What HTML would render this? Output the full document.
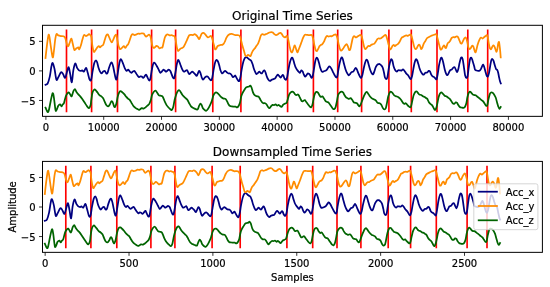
<!DOCTYPE html>
<html><head><meta charset="utf-8"><style>
html,body{margin:0;padding:0;background:#fff;}
body{width:550px;height:287px;overflow:hidden;}
svg{display:block;}
text{stroke:#000;stroke-width:0.2px;}
</style></head><body>
<svg width="550" height="287" viewBox="0 0 550 287" font-family="DejaVu Sans, Liberation Sans, sans-serif" font-size="10" fill="#000">
<rect width="550" height="287" fill="#fff"/>
<clipPath id="c1"><rect x="42.50" y="25.30" width="499.90" height="91.05"/></clipPath>
<g clip-path="url(#c1)">
<line x1="66.50" y1="29.55" x2="66.50" y2="112.25" stroke="#ff0000" stroke-width="1.65"/>
<line x1="91.60" y1="29.55" x2="91.60" y2="112.25" stroke="#ff0000" stroke-width="1.65"/>
<line x1="117.50" y1="29.55" x2="117.50" y2="112.25" stroke="#ff0000" stroke-width="1.65"/>
<line x1="151.60" y1="29.55" x2="151.60" y2="112.25" stroke="#ff0000" stroke-width="1.65"/>
<line x1="175.60" y1="29.55" x2="175.60" y2="112.25" stroke="#ff0000" stroke-width="1.65"/>
<line x1="212.80" y1="29.55" x2="212.80" y2="112.25" stroke="#ff0000" stroke-width="1.65"/>
<line x1="240.90" y1="29.55" x2="240.90" y2="112.25" stroke="#ff0000" stroke-width="1.65"/>
<line x1="287.60" y1="29.55" x2="287.60" y2="112.25" stroke="#ff0000" stroke-width="1.65"/>
<line x1="313.40" y1="29.55" x2="313.40" y2="112.25" stroke="#ff0000" stroke-width="1.65"/>
<line x1="337.70" y1="29.55" x2="337.70" y2="112.25" stroke="#ff0000" stroke-width="1.65"/>
<line x1="361.60" y1="29.55" x2="361.60" y2="112.25" stroke="#ff0000" stroke-width="1.65"/>
<line x1="388.90" y1="29.55" x2="388.90" y2="112.25" stroke="#ff0000" stroke-width="1.65"/>
<line x1="411.30" y1="29.55" x2="411.30" y2="112.25" stroke="#ff0000" stroke-width="1.65"/>
<line x1="437.00" y1="29.55" x2="437.00" y2="112.25" stroke="#ff0000" stroke-width="1.65"/>
<line x1="467.80" y1="29.55" x2="467.80" y2="112.25" stroke="#ff0000" stroke-width="1.65"/>
<line x1="487.70" y1="29.55" x2="487.70" y2="112.25" stroke="#ff0000" stroke-width="1.65"/>
<path d="M45.51 84.73 C45.86 84.52 46.93 84.84 47.64 83.48 C48.35 82.12 49.14 79.40 49.77 76.58 C50.40 73.76 50.92 68.80 51.40 66.54 C51.88 64.29 52.13 62.61 52.65 63.03 C53.17 63.45 53.90 66.27 54.53 69.05 C55.16 71.83 55.78 78.36 56.41 79.71 C57.04 81.07 57.52 78.46 58.29 77.21 C59.06 75.95 60.25 72.71 61.05 72.19 C61.84 71.67 62.36 73.13 63.05 74.07 C63.74 75.01 64.51 78.25 65.18 77.83 C65.85 77.41 66.48 73.34 67.06 71.56 C67.65 69.78 68.17 66.75 68.69 67.17 C69.21 67.59 69.67 71.56 70.20 74.07 C70.72 76.58 71.30 82.85 71.82 82.22 C72.35 81.60 72.76 73.44 73.33 70.31 C73.89 67.17 74.58 63.83 75.21 63.41 C75.83 62.99 76.46 66.65 77.09 67.80 C77.71 68.95 78.34 69.78 78.97 70.31 C79.59 70.83 80.32 70.93 80.85 70.93 C81.37 70.93 81.58 70.20 82.10 70.31 C82.62 70.41 83.31 71.98 83.98 71.56 C84.65 71.14 85.48 67.59 86.11 67.80 C86.74 68.01 87.15 70.83 87.74 72.82 C88.32 74.80 89.04 78.56 89.62 79.71 C90.19 80.86 90.66 81.28 91.19 79.71 C91.71 78.15 92.22 73.13 92.76 70.31 C93.29 67.48 93.84 64.45 94.39 62.78 C94.93 61.11 95.53 60.27 96.02 60.27 C96.50 60.27 96.85 61.53 97.27 62.78 C97.69 64.03 98.06 66.33 98.52 67.80 C98.98 69.26 99.52 70.62 100.03 71.56 C100.53 72.50 101.01 73.44 101.53 73.44 C102.05 73.44 102.61 71.98 103.16 71.56 C103.70 71.14 104.26 70.62 104.79 70.93 C105.31 71.25 105.83 73.13 106.29 73.44 C106.75 73.76 107.08 73.76 107.54 72.82 C108.00 71.87 108.53 69.37 109.05 67.80 C109.57 66.23 110.20 64.24 110.68 63.41 C111.16 62.57 111.51 62.26 111.93 62.78 C112.35 63.30 112.77 64.87 113.18 66.54 C113.60 68.22 114.02 70.83 114.44 72.82 C114.85 74.80 115.31 77.41 115.69 78.46 C116.07 79.51 116.34 80.03 116.69 79.09 C117.05 78.15 117.36 75.53 117.82 72.82 C118.28 70.10 118.97 65.04 119.45 62.78 C119.93 60.52 120.28 59.58 120.70 59.27 C121.12 58.95 121.54 60.10 121.95 60.90 C122.37 61.69 122.73 62.78 123.21 64.03 C123.69 65.29 124.27 67.28 124.84 68.43 C125.40 69.57 126.03 70.72 126.59 70.93 C127.16 71.14 127.68 69.57 128.22 69.68 C128.76 69.78 129.33 71.04 129.85 71.56 C130.37 72.08 130.85 72.82 131.35 72.82 C131.85 72.82 132.34 71.87 132.86 71.56 C133.38 71.25 134.01 70.72 134.49 70.93 C134.97 71.14 135.26 72.08 135.74 72.82 C136.22 73.55 136.81 74.59 137.37 75.32 C137.92 76.06 138.54 77.04 139.06 77.21 C139.59 77.37 140.06 76.43 140.51 76.33 C140.96 76.22 141.30 76.33 141.76 76.58 C142.22 76.83 142.74 77.94 143.26 77.83 C143.79 77.73 144.41 76.47 144.89 75.95 C145.37 75.43 145.73 74.49 146.15 74.70 C146.56 74.91 146.92 76.26 147.40 77.21 C147.88 78.15 148.55 80.03 149.03 80.34 C149.51 80.66 149.86 80.55 150.28 79.09 C150.70 77.62 151.12 73.86 151.53 71.56 C151.95 69.26 152.37 66.79 152.79 65.29 C153.20 63.78 153.58 62.74 154.04 62.53 C154.50 62.32 155.04 63.37 155.54 64.03 C156.05 64.70 156.53 65.60 157.05 66.54 C157.57 67.48 158.13 68.63 158.68 69.68 C159.22 70.72 159.78 72.50 160.31 72.82 C160.83 73.13 161.31 72.08 161.81 71.56 C162.31 71.04 162.85 69.89 163.31 69.68 C163.77 69.47 164.15 69.99 164.57 70.31 C164.98 70.62 165.40 71.46 165.82 71.56 C166.24 71.67 166.59 71.25 167.07 70.93 C167.55 70.62 168.16 69.68 168.70 69.68 C169.24 69.68 169.85 70.20 170.33 70.93 C170.81 71.67 171.12 72.92 171.58 74.07 C172.04 75.22 172.63 77.21 173.09 77.83 C173.55 78.46 173.92 78.88 174.34 77.83 C174.76 76.79 175.18 73.86 175.59 71.56 C176.01 69.26 176.43 65.96 176.85 64.03 C177.26 62.11 177.68 60.40 178.10 60.02 C178.52 59.64 178.94 60.90 179.35 61.78 C179.77 62.66 180.15 64.08 180.61 65.29 C181.07 66.50 181.59 68.01 182.11 69.05 C182.63 70.10 183.20 71.25 183.74 71.56 C184.28 71.87 184.85 71.18 185.37 70.93 C185.89 70.68 186.52 70.06 186.87 70.06 C187.23 70.06 187.13 70.26 187.50 70.93 C187.88 71.60 188.59 73.76 189.13 74.07 C189.68 74.38 190.24 73.23 190.76 72.82 C191.28 72.40 191.76 71.56 192.27 71.56 C192.77 71.56 193.31 72.40 193.77 72.82 C194.23 73.23 194.54 73.55 195.02 74.07 C195.50 74.59 196.17 76.06 196.65 75.95 C197.13 75.85 197.49 74.28 197.90 73.44 C198.32 72.61 198.74 71.04 199.16 70.93 C199.58 70.83 199.99 71.77 200.41 72.82 C200.83 73.86 201.25 76.06 201.66 77.21 C202.08 78.36 202.44 79.61 202.92 79.71 C203.40 79.82 204.02 78.36 204.55 77.83 C205.07 77.31 205.55 76.79 206.05 76.58 C206.55 76.37 207.03 76.26 207.55 76.58 C208.08 76.89 208.64 77.83 209.18 78.46 C209.73 79.09 210.33 80.34 210.81 80.34 C211.29 80.34 211.65 79.92 212.07 78.46 C212.48 77.00 212.86 74.07 213.32 71.56 C213.78 69.05 214.32 65.33 214.82 63.41 C215.32 61.48 215.80 60.33 216.33 60.02 C216.85 59.71 217.47 60.65 217.95 61.53 C218.44 62.40 218.79 63.83 219.21 65.29 C219.63 66.75 219.98 68.95 220.46 70.31 C220.94 71.67 221.57 73.13 222.09 73.44 C222.61 73.76 223.09 72.61 223.59 72.19 C224.10 71.77 224.58 70.93 225.10 70.93 C225.62 70.93 226.18 71.77 226.73 72.19 C227.27 72.61 227.83 73.23 228.36 73.44 C228.88 73.65 229.36 73.23 229.86 73.44 C230.36 73.65 230.84 74.07 231.36 74.70 C231.89 75.32 232.45 77.00 232.99 77.21 C233.54 77.41 234.24 76.22 234.62 75.95 C235.00 75.68 234.94 75.26 235.25 75.57 C235.57 75.89 236.05 77.04 236.51 77.83 C236.97 78.63 237.55 79.82 238.01 80.34 C238.47 80.86 238.85 81.60 239.26 80.97 C239.68 80.34 240.10 78.56 240.52 76.58 C240.93 74.59 241.29 71.56 241.77 69.05 C242.25 66.54 242.86 63.41 243.40 61.53 C243.94 59.64 244.51 58.49 245.03 57.76 C245.55 57.03 246.03 57.03 246.53 57.14 C247.03 57.24 247.51 57.97 248.04 58.39 C248.56 58.81 249.12 59.23 249.66 59.64 C250.21 60.06 250.81 60.17 251.29 60.90 C251.77 61.63 252.13 62.78 252.55 64.03 C252.96 65.29 253.34 67.07 253.80 68.43 C254.26 69.78 254.84 71.25 255.30 72.19 C255.76 73.13 256.10 73.97 256.56 74.07 C257.02 74.17 257.60 73.23 258.06 72.82 C258.52 72.40 258.90 71.56 259.31 71.56 C259.73 71.56 260.15 72.50 260.57 72.82 C260.98 73.13 261.40 73.65 261.82 73.44 C262.24 73.23 262.65 72.08 263.07 71.56 C263.49 71.04 263.91 70.14 264.33 70.31 C264.74 70.47 265.16 71.52 265.58 72.56 C266.00 73.61 266.35 75.39 266.83 76.58 C267.31 77.77 267.92 78.98 268.46 79.71 C269.00 80.45 269.57 80.97 270.09 80.97 C270.61 80.97 271.03 80.03 271.59 79.71 C272.16 79.40 272.89 79.30 273.47 79.09 C274.06 78.88 274.58 78.98 275.10 78.46 C275.62 77.94 276.15 76.58 276.61 75.95 C277.07 75.32 277.44 74.70 277.86 74.70 C278.28 74.70 278.65 75.47 279.11 75.95 C279.57 76.43 280.09 77.69 280.62 77.58 C281.14 77.48 281.81 75.70 282.25 75.32 C282.69 74.95 282.88 74.80 283.25 75.32 C283.63 75.85 284.05 77.73 284.51 78.46 C284.97 79.19 285.55 80.03 286.01 79.71 C286.47 79.40 286.85 78.36 287.26 76.58 C287.68 74.80 288.04 71.56 288.52 69.05 C289.00 66.54 289.60 63.41 290.15 61.53 C290.69 59.64 291.29 58.18 291.77 57.76 C292.25 57.34 292.61 58.08 293.03 59.02 C293.45 59.96 293.86 62.05 294.28 63.41 C294.70 64.77 295.07 66.13 295.53 67.17 C295.99 68.22 296.54 68.95 297.04 69.68 C297.54 70.41 298.08 71.04 298.54 71.56 C299.00 72.08 299.31 73.02 299.79 72.82 C300.27 72.61 300.94 70.52 301.42 70.31 C301.90 70.10 302.26 70.83 302.68 71.56 C303.09 72.29 303.51 73.86 303.93 74.70 C304.35 75.53 304.77 76.47 305.18 76.58 C305.60 76.68 306.02 75.85 306.44 75.32 C306.85 74.80 307.27 73.69 307.69 73.44 C308.11 73.19 308.52 73.51 308.94 73.82 C309.36 74.13 309.78 74.66 310.20 75.32 C310.61 75.99 311.03 77.73 311.45 77.83 C311.87 77.94 312.28 77.41 312.70 75.95 C313.12 74.49 313.54 71.46 313.95 69.05 C314.37 66.65 314.79 63.41 315.21 61.53 C315.63 59.64 316.04 58.22 316.46 57.76 C316.88 57.30 317.30 57.93 317.71 58.77 C318.13 59.60 318.55 61.28 318.97 62.78 C319.39 64.29 319.74 66.33 320.22 67.80 C320.70 69.26 321.33 70.93 321.85 71.56 C322.37 72.19 322.85 71.67 323.35 71.56 C323.85 71.46 324.34 71.18 324.86 70.93 C325.38 70.68 325.94 70.58 326.49 70.06 C327.03 69.53 327.63 68.43 328.12 67.80 C328.60 67.17 328.88 66.24 329.37 66.29 C329.86 66.34 330.50 67.23 331.06 68.11 C331.63 68.99 332.20 70.46 332.76 71.56 C333.31 72.66 333.84 73.76 334.39 74.70 C334.93 75.64 335.53 76.89 336.02 77.21 C336.50 77.52 336.85 77.94 337.27 76.58 C337.69 75.22 338.06 71.56 338.52 69.05 C338.98 66.54 339.52 63.45 340.03 61.53 C340.53 59.60 341.07 57.93 341.53 57.51 C341.99 57.09 342.36 57.93 342.78 59.02 C343.20 60.10 343.55 62.26 344.04 64.03 C344.52 65.81 345.12 68.11 345.66 69.68 C346.21 71.25 346.77 72.50 347.29 73.44 C347.82 74.38 348.34 75.22 348.80 75.32 C349.26 75.43 349.59 74.59 350.05 74.07 C350.51 73.55 351.03 72.61 351.55 72.19 C352.08 71.77 352.70 71.98 353.18 71.56 C353.66 71.14 354.02 70.31 354.44 69.68 C354.85 69.05 355.27 67.80 355.69 67.80 C356.11 67.80 356.52 68.84 356.94 69.68 C357.36 70.52 357.72 71.71 358.20 72.82 C358.68 73.92 359.34 75.49 359.82 76.33 C360.30 77.16 360.66 78.00 361.08 77.83 C361.50 77.67 361.91 76.79 362.33 75.32 C362.75 73.86 363.12 71.14 363.58 69.05 C364.04 66.96 364.63 64.35 365.09 62.78 C365.55 61.21 365.92 59.96 366.34 59.64 C366.76 59.33 367.18 59.96 367.59 60.90 C368.01 61.84 368.39 63.72 368.85 65.29 C369.31 66.86 369.83 68.89 370.35 70.31 C370.87 71.73 371.50 73.19 371.98 73.82 C372.46 74.45 372.82 74.55 373.23 74.07 C373.65 73.59 374.07 72.08 374.49 70.93 C374.90 69.78 375.26 68.22 375.74 67.17 C376.22 66.13 376.85 65.18 377.37 64.66 C377.89 64.14 378.52 64.14 378.87 64.03 C379.23 63.93 379.13 63.83 379.50 64.03 C379.88 64.24 380.59 64.66 381.13 65.29 C381.68 65.92 382.28 66.54 382.76 67.80 C383.24 69.05 383.66 71.25 384.02 72.82 C384.37 74.38 384.54 76.16 384.89 77.21 C385.25 78.25 385.73 79.09 386.15 79.09 C386.56 79.09 386.98 78.88 387.40 77.21 C387.82 75.53 388.23 71.46 388.65 69.05 C389.07 66.65 389.49 64.41 389.90 62.78 C390.32 61.15 390.74 59.58 391.16 59.27 C391.58 58.95 391.99 59.69 392.41 60.90 C392.83 62.11 393.18 64.98 393.66 66.54 C394.14 68.11 394.77 69.47 395.29 70.31 C395.82 71.14 396.30 71.56 396.80 71.56 C397.30 71.56 397.78 70.52 398.30 70.31 C398.82 70.10 399.39 70.26 399.93 70.31 C400.47 70.35 401.04 70.72 401.56 70.56 C402.08 70.39 402.56 69.24 403.06 69.30 C403.56 69.37 404.04 70.24 404.57 70.93 C405.09 71.62 405.61 72.71 406.20 73.44 C406.78 74.17 407.51 74.59 408.08 75.32 C408.64 76.06 409.12 77.21 409.58 77.83 C410.04 78.46 410.41 79.40 410.83 79.09 C411.25 78.77 411.67 77.62 412.09 75.95 C412.50 74.28 412.92 71.25 413.34 69.05 C413.76 66.86 414.17 64.41 414.59 62.78 C415.01 61.15 415.43 59.69 415.84 59.27 C416.26 58.85 416.68 59.48 417.10 60.27 C417.52 61.07 417.93 62.68 418.35 64.03 C418.77 65.39 419.19 67.17 419.60 68.43 C420.02 69.68 420.38 70.62 420.86 71.56 C421.34 72.50 422.01 73.55 422.49 74.07 C422.97 74.59 423.26 74.91 423.74 74.70 C424.22 74.49 424.81 73.17 425.37 72.82 C425.92 72.46 426.50 72.88 427.06 72.56 C427.63 72.25 428.27 71.10 428.76 70.93 C429.25 70.77 429.59 70.93 430.01 71.56 C430.43 72.19 430.85 73.90 431.26 74.70 C431.68 75.49 432.10 75.97 432.52 76.33 C432.93 76.68 433.29 76.47 433.77 76.83 C434.25 77.18 434.92 78.08 435.40 78.46 C435.88 78.84 436.23 80.03 436.65 79.09 C437.07 78.15 437.49 75.22 437.90 72.82 C438.32 70.41 438.68 67.07 439.16 64.66 C439.64 62.26 440.31 59.44 440.79 58.39 C441.27 57.34 441.62 57.66 442.04 58.39 C442.46 59.12 442.83 60.90 443.29 62.78 C443.75 64.66 444.30 67.80 444.80 69.68 C445.30 71.56 445.84 73.17 446.30 74.07 C446.76 74.97 447.14 75.28 447.55 75.07 C447.97 74.86 448.39 73.61 448.81 72.82 C449.22 72.02 449.58 70.83 450.06 70.31 C450.54 69.78 451.15 70.14 451.69 69.68 C452.23 69.22 452.84 67.97 453.32 67.55 C453.80 67.13 454.15 66.82 454.57 67.17 C454.99 67.53 455.41 68.84 455.82 69.68 C456.24 70.52 456.66 72.29 457.08 72.19 C457.50 72.08 457.91 70.62 458.33 69.05 C458.75 67.48 459.12 64.70 459.58 62.78 C460.04 60.86 460.59 58.14 461.09 57.51 C461.59 56.89 462.13 57.51 462.59 59.02 C463.05 60.52 463.43 63.83 463.84 66.54 C464.26 69.26 464.68 73.44 465.10 75.32 C465.52 77.21 465.93 77.73 466.35 77.83 C466.77 77.94 467.19 77.83 467.60 75.95 C468.02 74.07 468.44 69.37 468.86 66.54 C469.27 63.72 469.69 60.48 470.11 59.02 C470.53 57.55 470.95 57.45 471.36 57.76 C471.78 58.08 472.14 59.44 472.62 60.90 C473.10 62.36 473.85 65.08 474.25 66.54 C474.64 68.01 474.63 69.01 475.01 69.68 C475.39 70.35 475.99 70.35 476.52 70.56 C477.04 70.77 477.60 70.93 478.15 70.93 C478.69 70.93 479.29 70.91 479.77 70.56 C480.25 70.20 480.61 69.57 481.03 68.80 C481.45 68.03 481.93 66.61 482.28 65.92 C482.64 65.23 482.87 64.56 483.16 64.66 C483.45 64.77 483.68 65.50 484.04 66.54 C484.39 67.59 484.87 69.47 485.29 70.93 C485.71 72.40 486.12 74.38 486.54 75.32 C486.96 76.26 487.38 77.00 487.79 76.58 C488.21 76.16 488.63 74.70 489.05 72.82 C489.47 70.93 489.92 67.38 490.30 65.29 C490.68 63.20 490.97 61.32 491.30 60.27 C491.64 59.23 491.93 58.91 492.31 59.02 C492.68 59.12 493.14 59.85 493.56 60.90 C493.98 61.94 494.39 63.93 494.81 65.29 C495.23 66.65 495.65 68.26 496.07 69.05 C496.48 69.85 496.96 69.43 497.32 70.06 C497.67 70.68 497.90 71.62 498.20 72.82 C498.49 74.01 498.76 75.74 499.07 77.21 C499.39 78.67 499.78 80.55 500.08 81.60 C500.37 82.64 500.70 83.16 500.83 83.48" fill="none" stroke="#000080" stroke-width="1.75" stroke-linejoin="round" stroke-linecap="square"/>
<path d="M45.51 57.99 C45.76 55.79 46.51 48.64 47.01 44.82 C47.51 40.99 48.10 36.29 48.52 35.03 C48.93 33.78 49.14 35.45 49.52 37.29 C49.89 39.13 50.25 42.72 50.77 46.07 C51.29 49.41 52.13 56.52 52.65 57.36 C53.17 58.20 53.49 54.01 53.90 51.09 C54.32 48.16 54.74 42.62 55.16 39.80 C55.58 36.98 55.89 34.89 56.41 34.15 C56.93 33.42 57.56 35.09 58.29 35.41 C59.02 35.72 59.96 35.89 60.80 36.03 C61.63 36.18 62.57 35.97 63.30 36.29 C64.03 36.60 64.56 36.49 65.18 37.92 C65.81 39.34 66.54 43.46 67.06 44.82 C67.58 46.17 67.86 46.49 68.32 46.07 C68.78 45.65 69.30 43.56 69.82 42.31 C70.34 41.05 70.97 38.33 71.45 38.54 C71.93 38.75 72.22 41.68 72.70 43.56 C73.18 45.44 73.70 49.04 74.33 49.83 C74.96 50.63 75.79 48.75 76.46 48.33 C77.13 47.91 77.88 47.18 78.34 47.32 C78.80 47.47 78.80 49.52 79.22 49.21 C79.64 48.89 80.32 47.01 80.85 45.44 C81.37 43.87 81.83 41.53 82.35 39.80 C82.87 38.06 83.40 35.66 83.98 35.03 C84.56 34.40 85.30 35.97 85.86 36.03 C86.42 36.10 86.84 35.72 87.36 35.41 C87.89 35.09 88.51 34.22 88.99 34.15 C89.47 34.09 89.85 34.56 90.25 35.03 C90.64 35.50 91.04 35.34 91.38 36.98 C91.71 38.61 91.86 42.36 92.26 44.82 C92.65 47.27 93.26 50.77 93.76 51.71 C94.26 52.66 94.74 51.09 95.26 50.46 C95.79 49.83 96.31 48.68 96.89 47.95 C97.48 47.22 98.25 46.17 98.77 46.07 C99.29 45.97 99.61 47.32 100.03 47.32 C100.44 47.32 100.76 46.49 101.28 46.07 C101.80 45.65 102.57 45.86 103.16 44.82 C103.74 43.77 104.26 41.37 104.79 39.80 C105.31 38.23 105.79 36.29 106.29 35.41 C106.79 34.53 107.27 34.11 107.79 34.53 C108.32 34.95 108.80 36.62 109.42 37.92 C110.05 39.21 110.93 41.99 111.55 42.31 C112.18 42.62 112.64 40.84 113.18 39.80 C113.73 38.75 114.29 36.87 114.81 36.03 C115.33 35.20 115.90 34.15 116.32 34.78 C116.73 35.41 116.94 37.92 117.32 39.80 C117.69 41.68 118.11 44.50 118.57 46.07 C119.03 47.64 119.51 48.89 120.08 49.21 C120.64 49.52 121.33 48.47 121.95 47.95 C122.58 47.43 123.27 46.07 123.83 46.07 C124.40 46.07 124.82 48.06 125.34 47.95 C125.86 47.85 126.49 46.07 126.97 45.44 C127.45 44.82 127.74 45.13 128.22 44.19 C128.70 43.25 129.33 41.26 129.85 39.80 C130.37 38.33 130.89 36.35 131.35 35.41 C131.81 34.47 132.08 34.22 132.61 34.15 C133.13 34.09 133.86 34.97 134.49 35.03 C135.11 35.09 135.74 34.78 136.37 34.53 C136.99 34.28 137.66 33.65 138.25 33.53 C138.83 33.40 139.29 33.82 139.88 33.78 C140.47 33.74 141.13 33.32 141.76 33.28 C142.39 33.23 143.12 33.17 143.64 33.53 C144.16 33.88 144.47 34.89 144.89 35.41 C145.31 35.93 145.66 36.66 146.15 36.66 C146.63 36.66 147.29 35.76 147.77 35.41 C148.25 35.05 148.61 34.43 149.03 34.53 C149.45 34.63 149.93 35.16 150.28 36.03 C150.64 36.91 150.80 38.13 151.16 39.80 C151.51 41.47 151.99 44.71 152.41 46.07 C152.83 47.43 153.25 47.74 153.66 47.95 C154.08 48.16 154.44 47.68 154.92 47.32 C155.40 46.97 156.02 45.92 156.55 45.82 C157.07 45.71 157.55 46.28 158.05 46.70 C158.55 47.11 159.03 48.18 159.55 48.33 C160.08 48.47 160.70 47.74 161.18 47.57 C161.66 47.41 162.02 48.20 162.44 47.32 C162.85 46.45 163.27 43.98 163.69 42.31 C164.11 40.63 164.46 38.54 164.94 37.29 C165.42 36.03 166.05 35.24 166.57 34.78 C167.09 34.32 167.51 34.43 168.08 34.53 C168.64 34.63 169.37 35.32 169.95 35.41 C170.54 35.49 171.06 34.97 171.58 35.03 C172.11 35.09 172.63 35.62 173.09 35.78 C173.55 35.95 173.96 35.57 174.34 36.03 C174.72 36.49 175.03 37.29 175.34 38.54 C175.66 39.80 175.93 41.89 176.22 43.56 C176.51 45.23 176.78 47.32 177.10 48.58 C177.41 49.83 177.72 50.88 178.10 51.09 C178.48 51.30 178.94 50.25 179.35 49.83 C179.77 49.41 180.15 48.89 180.61 48.58 C181.07 48.26 181.59 48.26 182.11 47.95 C182.63 47.64 183.20 47.43 183.74 46.70 C184.28 45.97 184.81 44.71 185.37 43.56 C185.92 42.41 186.44 41.16 187.06 39.80 C187.69 38.44 188.47 36.24 189.13 35.41 C189.79 34.57 190.39 34.84 191.01 34.78 C191.64 34.72 192.31 35.14 192.89 35.03 C193.48 34.93 194.00 34.15 194.52 34.15 C195.04 34.15 195.52 34.61 196.03 35.03 C196.53 35.45 197.01 35.97 197.53 36.66 C198.05 37.35 198.68 39.17 199.16 39.17 C199.64 39.17 199.99 37.56 200.41 36.66 C200.83 35.76 201.18 34.40 201.66 33.78 C202.14 33.15 202.77 32.90 203.29 32.90 C203.82 32.90 204.30 33.30 204.80 33.78 C205.30 34.26 205.78 35.20 206.30 35.78 C206.82 36.37 207.39 37.14 207.93 37.29 C208.47 37.44 209.08 36.91 209.56 36.66 C210.04 36.41 210.46 35.72 210.81 35.78 C211.17 35.85 211.40 36.37 211.69 37.04 C211.98 37.71 212.21 38.50 212.57 39.80 C212.92 41.09 213.40 43.25 213.82 44.82 C214.24 46.38 214.65 48.58 215.07 49.21 C215.49 49.83 215.91 49.10 216.33 48.58 C216.74 48.06 217.10 46.59 217.58 46.07 C218.06 45.55 218.66 45.65 219.21 45.44 C219.75 45.23 220.31 44.92 220.84 44.82 C221.36 44.71 221.84 45.02 222.34 44.82 C222.84 44.61 223.39 44.19 223.84 43.56 C224.30 42.93 224.68 41.99 225.10 41.05 C225.52 40.11 225.87 38.86 226.35 37.92 C226.83 36.98 227.40 36.03 227.98 35.41 C228.56 34.78 229.23 34.43 229.86 34.15 C230.49 33.88 231.11 33.71 231.74 33.78 C232.37 33.84 233.02 34.29 233.62 34.53 C234.21 34.77 234.73 35.14 235.31 35.22 C235.90 35.30 236.52 35.00 237.13 35.03 C237.75 35.06 238.49 35.03 239.01 35.41 C239.53 35.78 239.89 36.35 240.27 37.29 C240.64 38.23 240.89 39.59 241.27 41.05 C241.64 42.52 242.06 44.40 242.52 46.07 C242.98 47.74 243.57 49.52 244.03 51.09 C244.48 52.66 244.86 54.64 245.28 55.48 C245.70 56.31 246.07 56.21 246.53 56.10 C246.99 56.00 247.58 54.95 248.04 54.85 C248.49 54.75 248.87 55.27 249.29 55.48 C249.71 55.69 250.12 56.52 250.54 56.10 C250.96 55.69 251.38 53.91 251.79 52.97 C252.21 52.03 252.57 51.19 253.05 50.46 C253.53 49.73 254.13 49.31 254.68 48.58 C255.22 47.85 255.74 46.91 256.31 46.07 C256.87 45.23 257.50 44.71 258.06 43.56 C258.62 42.41 259.21 40.53 259.69 39.17 C260.17 37.81 260.46 36.24 260.94 35.41 C261.42 34.57 262.05 34.26 262.57 34.15 C263.09 34.05 263.51 34.78 264.08 34.78 C264.64 34.78 265.37 34.36 265.95 34.15 C266.54 33.94 267.02 33.80 267.58 33.53 C268.15 33.25 268.71 32.77 269.34 32.52 C269.96 32.27 270.76 32.02 271.34 32.02 C271.93 32.02 272.35 32.17 272.85 32.52 C273.35 32.88 273.83 33.74 274.35 34.15 C274.87 34.57 275.44 34.97 275.98 35.03 C276.52 35.09 277.09 34.82 277.61 34.53 C278.13 34.24 278.61 33.55 279.11 33.28 C279.61 33.00 280.16 32.75 280.62 32.90 C281.08 33.05 281.42 33.58 281.87 34.15 C282.32 34.73 282.77 35.83 283.31 36.35 C283.86 36.87 284.52 37.34 285.13 37.29 C285.75 37.24 286.49 35.62 287.01 36.03 C287.53 36.45 287.85 38.13 288.27 39.80 C288.68 41.47 289.10 44.19 289.52 46.07 C289.94 47.95 290.35 50.04 290.77 51.09 C291.19 52.13 291.61 52.66 292.03 52.34 C292.44 52.03 292.86 50.36 293.28 49.21 C293.70 48.06 294.11 45.65 294.53 45.44 C294.95 45.23 295.32 46.80 295.78 47.95 C296.24 49.10 296.83 52.03 297.29 52.34 C297.75 52.66 298.12 50.77 298.54 49.83 C298.96 48.89 299.31 47.95 299.79 46.70 C300.27 45.44 300.88 43.77 301.42 42.31 C301.97 40.84 302.53 39.13 303.05 37.92 C303.57 36.70 303.99 35.55 304.56 35.03 C305.12 34.51 305.81 34.78 306.44 34.78 C307.06 34.78 307.69 34.99 308.32 35.03 C308.94 35.07 309.61 35.03 310.20 35.03 C310.78 35.03 311.34 34.45 311.82 35.03 C312.30 35.62 312.66 36.91 313.08 38.54 C313.50 40.17 313.91 42.93 314.33 44.82 C314.75 46.70 315.17 48.79 315.58 49.83 C316.00 50.88 316.38 51.30 316.84 51.09 C317.30 50.88 317.88 49.41 318.34 48.58 C318.80 47.74 319.13 46.70 319.59 46.07 C320.05 45.44 320.64 45.13 321.10 44.82 C321.56 44.50 321.87 44.71 322.35 44.19 C322.83 43.67 323.50 42.62 323.98 41.68 C324.46 40.74 324.75 39.48 325.23 38.54 C325.71 37.60 326.30 36.35 326.86 36.03 C327.43 35.72 328.05 36.66 328.62 36.66 C329.18 36.66 329.76 36.10 330.25 36.03 C330.73 35.97 331.02 36.39 331.50 36.29 C331.98 36.18 332.59 35.70 333.13 35.41 C333.68 35.11 334.24 34.59 334.76 34.53 C335.28 34.47 335.81 34.36 336.27 35.03 C336.73 35.70 337.10 36.91 337.52 38.54 C337.94 40.17 338.31 42.93 338.77 44.82 C339.23 46.70 339.82 48.89 340.28 49.83 C340.74 50.77 341.05 50.67 341.53 50.46 C342.01 50.25 342.61 49.31 343.16 48.58 C343.70 47.85 344.22 46.80 344.79 46.07 C345.35 45.34 346.04 44.19 346.54 44.19 C347.04 44.19 347.38 45.13 347.79 46.07 C348.21 47.01 348.63 49.31 349.05 49.83 C349.47 50.36 349.88 50.25 350.30 49.21 C350.72 48.16 351.14 45.44 351.55 43.56 C351.97 41.68 352.39 39.17 352.81 37.92 C353.22 36.66 353.58 36.14 354.06 36.03 C354.54 35.93 355.15 37.18 355.69 37.29 C356.23 37.39 356.80 36.91 357.32 36.66 C357.84 36.41 358.32 36.10 358.82 35.78 C359.32 35.47 359.87 34.74 360.33 34.78 C360.79 34.82 361.16 34.99 361.58 36.03 C362.00 37.08 362.41 39.28 362.83 41.05 C363.25 42.83 363.67 45.34 364.09 46.70 C364.50 48.06 364.92 49.00 365.34 49.21 C365.76 49.41 366.11 48.47 366.59 47.95 C367.07 47.43 367.68 46.38 368.22 46.07 C368.76 45.76 369.33 46.28 369.85 46.07 C370.37 45.86 370.85 45.13 371.35 44.82 C371.85 44.50 372.34 44.40 372.86 44.19 C373.38 43.98 374.01 43.98 374.49 43.56 C374.97 43.14 375.26 42.41 375.74 41.68 C376.22 40.95 376.85 39.74 377.37 39.17 C377.89 38.61 378.52 38.40 378.87 38.29 C379.23 38.19 379.13 38.54 379.50 38.54 C379.88 38.54 380.55 38.61 381.13 38.29 C381.72 37.98 382.39 37.21 383.01 36.66 C383.64 36.12 384.37 35.18 384.89 35.03 C385.41 34.89 385.73 34.99 386.15 35.78 C386.56 36.58 386.98 38.29 387.40 39.80 C387.82 41.30 388.23 43.25 388.65 44.82 C389.07 46.38 389.49 48.58 389.90 49.21 C390.32 49.83 390.74 49.10 391.16 48.58 C391.58 48.06 391.99 46.70 392.41 46.07 C392.83 45.44 393.25 44.82 393.66 44.82 C394.08 44.82 394.50 46.03 394.92 46.07 C395.34 46.11 395.69 45.38 396.17 45.07 C396.65 44.75 397.28 44.65 397.80 44.19 C398.32 43.73 398.84 43.04 399.30 42.31 C399.76 41.57 400.14 40.59 400.56 39.80 C400.97 39.00 401.39 38.00 401.81 37.54 C402.23 37.08 402.60 37.29 403.06 37.04 C403.52 36.79 404.04 36.31 404.57 36.03 C405.09 35.76 405.65 35.45 406.20 35.41 C406.74 35.37 407.30 35.85 407.82 35.78 C408.35 35.72 408.83 35.24 409.33 35.03 C409.83 34.82 410.41 34.15 410.83 34.53 C411.25 34.91 411.46 35.99 411.83 37.29 C412.21 38.59 412.67 40.63 413.09 42.31 C413.51 43.98 413.92 46.17 414.34 47.32 C414.76 48.47 415.18 49.10 415.59 49.21 C416.01 49.31 416.43 48.58 416.85 47.95 C417.26 47.32 417.68 45.97 418.10 45.44 C418.52 44.92 418.98 44.61 419.35 44.82 C419.73 45.02 420.04 45.97 420.36 46.70 C420.67 47.43 420.88 49.10 421.23 49.21 C421.59 49.31 422.07 48.26 422.49 47.32 C422.90 46.38 423.26 44.61 423.74 43.56 C424.22 42.52 424.84 41.94 425.37 41.05 C425.90 40.16 426.41 38.86 426.94 38.23 C427.46 37.60 427.93 37.61 428.51 37.29 C429.08 36.97 429.76 36.60 430.39 36.29 C431.01 35.97 431.64 35.66 432.27 35.41 C432.89 35.16 433.56 34.99 434.15 34.78 C434.73 34.57 435.36 34.11 435.77 34.15 C436.19 34.20 436.30 34.09 436.65 35.03 C437.01 35.97 437.49 38.17 437.90 39.80 C438.32 41.43 438.74 43.25 439.16 44.82 C439.58 46.38 439.99 48.47 440.41 49.21 C440.83 49.94 441.25 49.62 441.66 49.21 C442.08 48.79 442.50 47.32 442.92 46.70 C443.34 46.07 443.75 45.23 444.17 45.44 C444.59 45.65 445.07 47.64 445.42 47.95 C445.78 48.26 445.95 48.06 446.30 47.32 C446.66 46.59 447.14 44.40 447.55 43.56 C447.97 42.72 448.39 42.72 448.81 42.31 C449.22 41.89 449.58 41.78 450.06 41.05 C450.54 40.32 451.15 38.59 451.69 37.92 C452.23 37.25 452.80 37.14 453.32 37.04 C453.84 36.93 454.26 37.41 454.82 37.29 C455.39 37.16 456.18 36.33 456.70 36.29 C457.22 36.24 457.54 36.45 457.95 37.04 C458.37 37.62 458.79 38.82 459.21 39.80 C459.63 40.78 460.04 42.31 460.46 42.93 C460.88 43.56 461.30 43.87 461.71 43.56 C462.13 43.25 462.55 41.89 462.97 41.05 C463.39 40.22 463.80 39.17 464.22 38.54 C464.64 37.92 465.12 37.29 465.47 37.29 C465.83 37.29 466.04 37.71 466.35 38.54 C466.66 39.38 467.02 40.84 467.35 42.31 C467.69 43.77 467.98 46.17 468.36 47.32 C468.73 48.47 469.19 49.10 469.61 49.21 C470.03 49.31 470.44 48.52 470.86 47.95 C471.28 47.39 471.70 46.03 472.12 45.82 C472.53 45.61 472.84 45.61 473.37 46.70 C473.89 47.78 474.74 51.92 475.26 52.34 C475.79 52.76 476.10 50.56 476.52 49.21 C476.93 47.85 477.29 45.76 477.77 44.19 C478.25 42.62 478.86 40.91 479.40 39.80 C479.94 38.69 480.51 37.75 481.03 37.54 C481.55 37.33 482.03 38.59 482.53 38.54 C483.03 38.50 483.58 37.67 484.04 37.29 C484.49 36.91 484.81 36.66 485.29 36.29 C485.77 35.91 486.50 34.86 486.92 35.03 C487.34 35.20 487.48 35.87 487.79 37.29 C488.11 38.71 488.46 41.78 488.80 43.56 C489.13 45.34 489.42 47.01 489.80 47.95 C490.18 48.89 490.63 49.41 491.05 49.21 C491.47 49.00 491.89 47.32 492.31 46.70 C492.72 46.07 493.14 45.34 493.56 45.44 C493.98 45.55 494.35 46.28 494.81 47.32 C495.27 48.37 495.90 51.40 496.32 51.71 C496.73 52.03 497.01 50.56 497.32 49.21 C497.63 47.85 497.90 44.71 498.20 43.56 C498.49 42.41 498.76 41.26 499.07 42.31 C499.39 43.35 499.80 47.32 500.08 49.83 C500.35 52.34 500.60 56.10 500.70 57.36" fill="none" stroke="#ff8c00" stroke-width="1.75" stroke-linejoin="round" stroke-linecap="square"/>
<path d="M45.51 107.60 C45.86 108.33 47.08 111.57 47.64 111.99 C48.20 112.40 48.37 111.99 48.89 110.10 C49.41 108.22 50.15 103.52 50.77 100.70 C51.40 97.87 52.13 93.69 52.65 93.17 C53.17 92.65 53.42 94.74 53.90 97.56 C54.39 100.38 55.05 108.12 55.53 110.10 C56.01 112.09 56.33 110.21 56.79 109.48 C57.25 108.75 57.73 106.55 58.29 105.71 C58.85 104.88 59.65 104.36 60.17 104.46 C60.69 104.56 61.01 106.34 61.42 106.34 C61.84 106.34 62.26 104.98 62.68 104.46 C63.09 103.94 63.41 104.56 63.93 103.21 C64.45 101.85 65.18 97.98 65.81 96.31 C66.44 94.63 67.17 93.80 67.69 93.17 C68.21 92.54 68.52 92.33 68.94 92.54 C69.36 92.75 69.74 93.80 70.20 94.43 C70.65 95.05 71.18 96.83 71.70 96.31 C72.22 95.78 72.81 92.50 73.33 91.29 C73.85 90.08 74.31 88.93 74.83 89.03 C75.35 89.14 75.88 91.02 76.46 91.92 C77.05 92.82 77.71 93.69 78.34 94.43 C78.97 95.16 79.59 95.57 80.22 96.31 C80.85 97.04 81.37 97.77 82.10 98.82 C82.83 99.86 83.77 101.32 84.61 102.58 C85.44 103.83 86.38 105.40 87.11 106.34 C87.84 107.28 88.41 108.43 88.99 108.22 C89.58 108.01 90.24 106.45 90.62 105.09 C91.00 103.73 90.94 102.16 91.25 100.07 C91.57 97.98 91.98 94.32 92.51 92.54 C93.03 90.77 93.80 89.72 94.39 89.41 C94.97 89.09 95.49 90.14 96.02 90.66 C96.54 91.18 96.95 91.81 97.52 92.54 C98.08 93.28 98.77 94.43 99.40 95.05 C100.03 95.68 100.65 95.78 101.28 96.31 C101.90 96.83 102.57 97.25 103.16 98.19 C103.74 99.13 104.26 100.80 104.79 101.95 C105.31 103.10 105.73 104.36 106.29 105.09 C106.85 105.82 107.59 106.45 108.17 106.34 C108.76 106.24 109.28 105.30 109.80 104.46 C110.32 103.62 110.84 101.74 111.30 101.32 C111.76 100.91 112.10 101.11 112.56 101.95 C113.02 102.79 113.64 105.51 114.06 106.34 C114.48 107.18 114.69 107.39 115.06 106.97 C115.44 106.55 115.86 105.61 116.32 103.83 C116.78 102.06 117.30 98.29 117.82 96.31 C118.34 94.32 118.91 92.75 119.45 91.92 C119.99 91.08 120.56 91.18 121.08 91.29 C121.60 91.39 122.02 92.02 122.58 92.54 C123.15 93.07 123.83 93.69 124.46 94.43 C125.09 95.16 125.71 96.20 126.34 96.93 C126.97 97.67 127.64 98.29 128.22 98.82 C128.81 99.34 129.33 99.44 129.85 100.07 C130.37 100.70 130.79 101.64 131.35 102.58 C131.92 103.52 132.61 104.88 133.23 105.71 C133.86 106.55 134.49 107.07 135.11 107.60 C135.74 108.12 136.37 108.47 136.99 108.85 C137.62 109.23 138.39 109.75 138.87 109.85 C139.35 109.96 139.40 109.75 139.88 109.48 C140.36 109.21 141.13 108.37 141.76 108.22 C142.39 108.08 143.01 108.75 143.64 108.60 C144.27 108.45 144.89 107.83 145.52 107.34 C146.15 106.86 146.77 106.30 147.40 105.71 C148.03 105.13 148.71 104.77 149.28 103.83 C149.84 102.89 150.32 101.53 150.78 100.07 C151.24 98.61 151.55 96.41 152.04 95.05 C152.52 93.69 153.08 92.65 153.66 91.92 C154.25 91.18 154.98 90.56 155.54 90.66 C156.11 90.77 156.53 91.81 157.05 92.54 C157.57 93.28 158.09 94.53 158.68 95.05 C159.26 95.57 159.93 95.47 160.56 95.68 C161.18 95.89 161.91 95.78 162.44 96.31 C162.96 96.83 163.27 97.87 163.69 98.82 C164.11 99.76 164.46 100.91 164.94 101.95 C165.42 103.00 166.05 104.25 166.57 105.09 C167.09 105.92 167.51 106.34 168.08 106.97 C168.64 107.60 169.37 108.33 169.95 108.85 C170.54 109.37 171.06 110.31 171.58 110.10 C172.11 109.90 172.59 109.27 173.09 107.60 C173.59 105.92 174.07 102.26 174.59 100.07 C175.11 97.87 175.68 95.93 176.22 94.43 C176.76 92.92 177.33 91.73 177.85 91.04 C178.37 90.35 178.89 90.14 179.35 90.29 C179.81 90.43 180.15 91.23 180.61 91.92 C181.07 92.61 181.59 93.69 182.11 94.43 C182.63 95.16 183.15 95.68 183.74 96.31 C184.32 96.93 184.99 97.56 185.62 98.19 C186.25 98.82 186.92 99.23 187.50 100.07 C188.09 100.91 188.55 102.16 189.13 103.21 C189.72 104.25 190.39 105.57 191.01 106.34 C191.64 107.11 192.27 107.47 192.89 107.85 C193.52 108.22 194.15 108.33 194.77 108.60 C195.40 108.87 196.13 109.39 196.65 109.48 C197.17 109.56 197.49 109.73 197.90 109.10 C198.32 108.47 198.74 106.63 199.16 105.71 C199.58 104.79 199.99 103.69 200.41 103.58 C200.83 103.48 201.25 104.31 201.66 105.09 C202.08 105.86 202.40 107.39 202.92 108.22 C203.44 109.06 204.23 109.69 204.80 110.10 C205.36 110.52 205.78 110.90 206.30 110.73 C206.82 110.56 207.35 109.94 207.93 109.10 C208.51 108.26 209.18 107.01 209.81 105.71 C210.44 104.42 211.10 103.00 211.69 101.32 C212.27 99.65 212.75 97.10 213.32 95.68 C213.88 94.26 214.51 93.32 215.07 92.79 C215.64 92.27 216.16 92.38 216.70 92.54 C217.24 92.71 217.81 93.28 218.33 93.80 C218.85 94.32 219.27 95.05 219.83 95.68 C220.40 96.31 221.09 97.08 221.71 97.56 C222.34 98.04 222.97 98.36 223.59 98.56 C224.22 98.77 224.89 98.36 225.47 98.82 C226.06 99.28 226.58 100.38 227.10 101.32 C227.62 102.26 228.11 103.67 228.61 104.46 C229.11 105.25 229.59 105.78 230.11 106.09 C230.63 106.40 231.15 106.26 231.74 106.34 C232.32 106.43 232.99 106.55 233.62 106.59 C234.25 106.63 234.92 106.47 235.50 106.59 C236.09 106.72 236.59 107.49 237.13 107.34 C237.68 107.20 238.28 106.51 238.76 105.71 C239.24 104.92 239.60 104.15 240.02 102.58 C240.43 101.01 240.81 97.98 241.27 96.31 C241.73 94.63 242.27 93.59 242.77 92.54 C243.27 91.50 243.75 90.87 244.28 90.03 C244.80 89.20 245.36 88.05 245.90 87.53 C246.45 87.00 247.01 87.07 247.53 86.90 C248.06 86.73 248.58 86.73 249.04 86.52 C249.50 86.31 249.87 85.48 250.29 85.64 C250.71 85.81 251.13 86.48 251.54 87.53 C251.96 88.57 252.38 90.77 252.80 91.92 C253.21 93.07 253.59 93.80 254.05 94.43 C254.51 95.05 255.03 95.37 255.55 95.68 C256.08 95.99 256.64 96.10 257.18 96.31 C257.73 96.52 258.29 96.41 258.81 96.93 C259.33 97.46 259.81 98.61 260.32 99.44 C260.82 100.28 261.30 101.32 261.82 101.95 C262.34 102.58 262.91 103.00 263.45 103.21 C263.99 103.41 264.56 103.00 265.08 103.21 C265.60 103.41 266.08 103.83 266.58 104.46 C267.08 105.09 267.63 106.34 268.09 106.97 C268.54 107.60 268.86 108.33 269.34 108.22 C269.82 108.12 270.42 106.91 270.97 106.34 C271.51 105.78 272.07 105.05 272.60 104.84 C273.12 104.63 273.60 105.15 274.10 105.09 C274.60 105.02 275.08 104.36 275.60 104.46 C276.13 104.56 276.75 105.65 277.23 105.71 C277.71 105.78 278.07 104.84 278.49 104.84 C278.90 104.84 279.26 105.36 279.74 105.71 C280.22 106.07 280.85 107.07 281.37 106.97 C281.89 106.86 282.52 105.51 282.87 105.09 C283.23 104.67 283.13 104.71 283.50 104.46 C283.88 104.21 284.59 103.90 285.13 103.58 C285.68 103.27 286.28 103.48 286.76 102.58 C287.24 101.68 287.60 99.55 288.02 98.19 C288.43 96.83 288.81 95.41 289.27 94.43 C289.73 93.44 290.27 92.77 290.77 92.29 C291.27 91.81 291.75 91.50 292.28 91.54 C292.80 91.58 293.42 92.06 293.90 92.54 C294.39 93.02 294.74 94.01 295.16 94.43 C295.58 94.84 295.93 95.05 296.41 95.05 C296.89 95.05 297.56 94.22 298.04 94.43 C298.52 94.63 298.83 95.47 299.29 96.31 C299.75 97.14 300.34 98.61 300.80 99.44 C301.26 100.28 301.59 101.11 302.05 101.32 C302.51 101.53 303.09 100.91 303.55 100.70 C304.01 100.49 304.33 99.80 304.81 100.07 C305.29 100.34 305.89 101.60 306.44 102.33 C306.98 103.06 307.54 103.79 308.07 104.46 C308.59 105.13 309.07 105.86 309.57 106.34 C310.07 106.82 310.61 107.55 311.07 107.34 C311.53 107.14 311.91 106.51 312.33 105.09 C312.74 103.67 313.16 100.70 313.58 98.82 C314.00 96.93 314.35 94.95 314.83 93.80 C315.31 92.65 315.94 92.13 316.46 91.92 C316.98 91.71 317.48 92.02 317.96 92.54 C318.45 93.07 318.86 94.32 319.34 95.05 C319.82 95.78 320.35 96.72 320.85 96.93 C321.35 97.14 321.83 96.03 322.35 96.31 C322.87 96.58 323.44 97.77 323.98 98.56 C324.52 99.36 325.09 100.51 325.61 101.07 C326.13 101.64 326.61 101.70 327.11 101.95 C327.61 102.20 328.09 102.06 328.62 102.58 C329.14 103.10 329.81 104.46 330.25 105.09 C330.69 105.71 330.83 105.76 331.25 106.34 C331.67 106.93 332.23 108.14 332.76 108.60 C333.28 109.06 333.91 109.37 334.39 109.10 C334.87 108.83 335.22 108.26 335.64 106.97 C336.06 105.67 336.47 103.31 336.89 101.32 C337.31 99.34 337.66 96.52 338.15 95.05 C338.63 93.59 339.21 93.13 339.77 92.54 C340.34 91.96 340.96 91.54 341.53 91.54 C342.09 91.54 342.68 91.96 343.16 92.54 C343.64 93.13 343.93 94.26 344.41 95.05 C344.89 95.85 345.52 96.79 346.04 97.31 C346.56 97.83 347.04 97.94 347.54 98.19 C348.05 98.44 348.53 98.82 349.05 98.82 C349.57 98.82 350.13 97.98 350.68 98.19 C351.22 98.40 351.78 99.38 352.31 100.07 C352.83 100.76 353.31 101.87 353.81 102.33 C354.31 102.79 354.79 102.68 355.31 102.83 C355.84 102.98 356.46 102.83 356.94 103.21 C357.42 103.58 357.78 104.56 358.20 105.09 C358.61 105.61 359.03 106.45 359.45 106.34 C359.87 106.24 360.22 105.51 360.70 104.46 C361.18 103.41 361.81 101.43 362.33 100.07 C362.85 98.71 363.33 97.46 363.83 96.31 C364.34 95.16 364.88 93.90 365.34 93.17 C365.80 92.44 366.17 91.92 366.59 91.92 C367.01 91.92 367.36 92.54 367.84 93.17 C368.32 93.80 368.93 94.95 369.47 95.68 C370.02 96.41 370.58 97.04 371.10 97.56 C371.62 98.08 372.11 98.50 372.61 98.82 C373.11 99.13 373.59 99.19 374.11 99.44 C374.63 99.69 375.20 99.80 375.74 100.32 C376.28 100.84 376.85 102.10 377.37 102.58 C377.89 103.06 378.52 103.10 378.87 103.21 C379.23 103.31 379.13 103.00 379.50 103.21 C379.88 103.41 380.59 103.69 381.13 104.46 C381.68 105.23 382.24 107.01 382.76 107.85 C383.28 108.68 383.76 109.41 384.27 109.48 C384.77 109.54 385.31 109.37 385.77 108.22 C386.23 107.07 386.60 104.56 387.02 102.58 C387.44 100.59 387.80 98.02 388.28 96.31 C388.76 94.59 389.36 93.02 389.90 92.29 C390.45 91.56 391.01 91.67 391.53 91.92 C392.06 92.17 392.54 93.17 393.04 93.80 C393.54 94.43 394.02 95.26 394.54 95.68 C395.06 96.10 395.59 96.10 396.17 96.31 C396.76 96.52 397.49 96.62 398.05 96.93 C398.61 97.25 399.03 97.67 399.55 98.19 C400.08 98.71 400.64 99.34 401.18 100.07 C401.73 100.80 402.29 101.95 402.81 102.58 C403.33 103.21 403.81 103.73 404.32 103.83 C404.82 103.94 405.30 103.00 405.82 103.21 C406.34 103.41 406.91 104.52 407.45 105.09 C407.99 105.65 408.60 106.22 409.08 106.59 C409.56 106.97 409.98 107.49 410.33 107.34 C410.69 107.20 410.85 106.93 411.21 105.71 C411.56 104.50 412.04 101.85 412.46 100.07 C412.88 98.29 413.23 96.41 413.71 95.05 C414.19 93.69 414.82 92.50 415.34 91.92 C415.87 91.33 416.39 91.33 416.85 91.54 C417.31 91.75 417.68 92.69 418.10 93.17 C418.52 93.65 418.83 94.11 419.35 94.43 C419.88 94.74 420.65 94.74 421.23 95.05 C421.82 95.37 422.30 95.99 422.86 96.31 C423.43 96.62 424.05 96.62 424.62 96.93 C425.18 97.25 425.81 97.87 426.25 98.19 C426.69 98.50 426.83 98.19 427.25 98.82 C427.67 99.44 428.23 101.11 428.76 101.95 C429.28 102.79 429.84 103.31 430.39 103.83 C430.93 104.36 431.53 104.50 432.02 105.09 C432.50 105.67 432.81 106.55 433.27 107.34 C433.73 108.14 434.31 109.64 434.77 109.85 C435.23 110.06 435.61 109.60 436.03 108.60 C436.44 107.60 436.86 105.67 437.28 103.83 C437.70 101.99 438.11 99.23 438.53 97.56 C438.95 95.89 439.32 94.68 439.78 93.80 C440.24 92.92 440.77 92.29 441.29 92.29 C441.81 92.29 442.37 93.23 442.92 93.80 C443.46 94.36 443.98 95.26 444.55 95.68 C445.11 96.10 445.74 95.99 446.30 96.31 C446.86 96.62 447.39 97.18 447.93 97.56 C448.47 97.94 449.04 98.04 449.56 98.56 C450.08 99.09 450.56 99.92 451.06 100.70 C451.56 101.47 452.04 102.68 452.57 103.21 C453.09 103.73 453.65 103.98 454.20 103.83 C454.74 103.69 455.34 102.49 455.82 102.33 C456.30 102.16 456.66 102.37 457.08 102.83 C457.50 103.29 457.87 104.40 458.33 105.09 C458.79 105.78 459.27 106.55 459.83 106.97 C460.40 107.39 461.13 107.45 461.71 107.60 C462.30 107.74 462.82 107.95 463.34 107.85 C463.87 107.74 464.35 107.74 464.85 106.97 C465.35 106.20 465.93 104.77 466.35 103.21 C466.77 101.64 466.98 99.23 467.35 97.56 C467.73 95.89 468.19 94.17 468.61 93.17 C469.02 92.17 469.44 91.64 469.86 91.54 C470.28 91.44 470.65 92.06 471.11 92.54 C471.57 93.02 472.09 94.01 472.62 94.43 C473.14 94.84 473.74 94.91 474.25 95.05 C474.75 95.20 475.20 95.09 475.64 95.30 C476.08 95.51 476.41 95.93 476.89 96.31 C477.37 96.68 478.00 97.14 478.52 97.56 C479.04 97.98 479.52 98.40 480.03 98.82 C480.53 99.23 481.01 99.65 481.53 100.07 C482.05 100.49 482.68 100.80 483.16 101.32 C483.64 101.85 483.93 102.47 484.41 103.21 C484.89 103.94 485.56 105.40 486.04 105.71 C486.52 106.03 486.88 106.24 487.29 105.09 C487.71 103.94 488.13 100.66 488.55 98.82 C488.96 96.98 489.38 95.09 489.80 94.05 C490.22 93.00 490.59 92.75 491.05 92.54 C491.51 92.33 492.06 92.48 492.56 92.79 C493.06 93.11 493.54 93.63 494.06 94.43 C494.58 95.22 495.21 96.31 495.69 97.56 C496.17 98.82 496.52 100.49 496.94 101.95 C497.36 103.41 497.78 105.19 498.20 106.34 C498.61 107.49 499.03 108.75 499.45 108.85 C499.87 108.95 500.49 107.28 500.70 106.97" fill="none" stroke="#006400" stroke-width="1.75" stroke-linejoin="round" stroke-linecap="square"/>
</g>
<rect x="42.50" y="25.30" width="499.90" height="91.05" fill="none" stroke="#000" stroke-width="1.0" stroke-linejoin="miter"/>
<line x1="45.90" y1="116.35" x2="45.90" y2="119.85" stroke="#000" stroke-width="0.8"/>
<text x="45.90" y="131.15" text-anchor="middle">0</text>
<line x1="103.71" y1="116.35" x2="103.71" y2="119.85" stroke="#000" stroke-width="0.8"/>
<text x="103.71" y="131.15" text-anchor="middle">10000</text>
<line x1="161.53" y1="116.35" x2="161.53" y2="119.85" stroke="#000" stroke-width="0.8"/>
<text x="161.53" y="131.15" text-anchor="middle">20000</text>
<line x1="219.34" y1="116.35" x2="219.34" y2="119.85" stroke="#000" stroke-width="0.8"/>
<text x="219.34" y="131.15" text-anchor="middle">30000</text>
<line x1="277.15" y1="116.35" x2="277.15" y2="119.85" stroke="#000" stroke-width="0.8"/>
<text x="277.15" y="131.15" text-anchor="middle">40000</text>
<line x1="334.97" y1="116.35" x2="334.97" y2="119.85" stroke="#000" stroke-width="0.8"/>
<text x="334.97" y="131.15" text-anchor="middle">50000</text>
<line x1="392.78" y1="116.35" x2="392.78" y2="119.85" stroke="#000" stroke-width="0.8"/>
<text x="392.78" y="131.15" text-anchor="middle">60000</text>
<line x1="450.59" y1="116.35" x2="450.59" y2="119.85" stroke="#000" stroke-width="0.8"/>
<text x="450.59" y="131.15" text-anchor="middle">70000</text>
<line x1="508.41" y1="116.35" x2="508.41" y2="119.85" stroke="#000" stroke-width="0.8"/>
<text x="508.41" y="131.15" text-anchor="middle">80000</text>
<line x1="39.00" y1="41.35" x2="42.50" y2="41.35" stroke="#000" stroke-width="0.8"/>
<text x="35.50" y="45.40" text-anchor="end">5</text>
<line x1="39.00" y1="70.90" x2="42.50" y2="70.90" stroke="#000" stroke-width="0.8"/>
<text x="35.50" y="74.95" text-anchor="end">0</text>
<line x1="39.00" y1="100.45" x2="42.50" y2="100.45" stroke="#000" stroke-width="0.8"/>
<text x="35.50" y="104.50" text-anchor="end">−5</text>
<clipPath id="c2"><rect x="42.50" y="161.40" width="499.90" height="90.95"/></clipPath>
<g clip-path="url(#c2)">
<line x1="65.80" y1="165.65" x2="65.80" y2="248.35" stroke="#ff0000" stroke-width="1.65"/>
<line x1="90.90" y1="165.65" x2="90.90" y2="248.35" stroke="#ff0000" stroke-width="1.65"/>
<line x1="116.80" y1="165.65" x2="116.80" y2="248.35" stroke="#ff0000" stroke-width="1.65"/>
<line x1="150.90" y1="165.65" x2="150.90" y2="248.35" stroke="#ff0000" stroke-width="1.65"/>
<line x1="174.90" y1="165.65" x2="174.90" y2="248.35" stroke="#ff0000" stroke-width="1.65"/>
<line x1="212.10" y1="165.65" x2="212.10" y2="248.35" stroke="#ff0000" stroke-width="1.65"/>
<line x1="240.20" y1="165.65" x2="240.20" y2="248.35" stroke="#ff0000" stroke-width="1.65"/>
<line x1="286.90" y1="165.65" x2="286.90" y2="248.35" stroke="#ff0000" stroke-width="1.65"/>
<line x1="312.70" y1="165.65" x2="312.70" y2="248.35" stroke="#ff0000" stroke-width="1.65"/>
<line x1="337.00" y1="165.65" x2="337.00" y2="248.35" stroke="#ff0000" stroke-width="1.65"/>
<line x1="360.90" y1="165.65" x2="360.90" y2="248.35" stroke="#ff0000" stroke-width="1.65"/>
<line x1="388.20" y1="165.65" x2="388.20" y2="248.35" stroke="#ff0000" stroke-width="1.65"/>
<line x1="410.60" y1="165.65" x2="410.60" y2="248.35" stroke="#ff0000" stroke-width="1.65"/>
<line x1="436.30" y1="165.65" x2="436.30" y2="248.35" stroke="#ff0000" stroke-width="1.65"/>
<line x1="467.10" y1="165.65" x2="467.10" y2="248.35" stroke="#ff0000" stroke-width="1.65"/>
<line x1="487.00" y1="165.65" x2="487.00" y2="248.35" stroke="#ff0000" stroke-width="1.65"/>
<path d="M44.81 220.83 C45.16 220.62 46.23 220.94 46.94 219.58 C47.65 218.22 48.44 215.50 49.07 212.68 C49.70 209.86 50.22 204.90 50.70 202.64 C51.18 200.39 51.43 198.71 51.95 199.13 C52.47 199.55 53.20 202.37 53.83 205.15 C54.46 207.93 55.08 214.46 55.71 215.81 C56.34 217.17 56.82 214.56 57.59 213.31 C58.36 212.05 59.55 208.81 60.35 208.29 C61.14 207.77 61.66 209.23 62.35 210.17 C63.04 211.11 63.81 214.35 64.48 213.93 C65.15 213.51 65.78 209.44 66.36 207.66 C66.95 205.88 67.47 202.85 67.99 203.27 C68.51 203.69 68.97 207.66 69.50 210.17 C70.02 212.68 70.60 218.95 71.12 218.32 C71.65 217.70 72.06 209.54 72.63 206.41 C73.19 203.27 73.88 199.93 74.51 199.51 C75.13 199.09 75.76 202.75 76.39 203.90 C77.01 205.05 77.64 205.88 78.27 206.41 C78.89 206.93 79.62 207.03 80.15 207.03 C80.67 207.03 80.88 206.30 81.40 206.41 C81.92 206.51 82.61 208.08 83.28 207.66 C83.95 207.24 84.78 203.69 85.41 203.90 C86.04 204.11 86.45 206.93 87.04 208.92 C87.62 210.90 88.34 214.66 88.92 215.81 C89.49 216.96 89.96 217.38 90.49 215.81 C91.01 214.25 91.52 209.23 92.06 206.41 C92.59 203.58 93.14 200.55 93.69 198.88 C94.23 197.21 94.83 196.37 95.32 196.37 C95.80 196.37 96.15 197.63 96.57 198.88 C96.99 200.13 97.36 202.43 97.82 203.90 C98.28 205.36 98.82 206.72 99.33 207.66 C99.83 208.60 100.31 209.54 100.83 209.54 C101.35 209.54 101.91 208.08 102.46 207.66 C103.00 207.24 103.56 206.72 104.09 207.03 C104.61 207.35 105.13 209.23 105.59 209.54 C106.05 209.86 106.38 209.86 106.84 208.92 C107.30 207.97 107.83 205.47 108.35 203.90 C108.87 202.33 109.50 200.34 109.98 199.51 C110.46 198.67 110.81 198.36 111.23 198.88 C111.65 199.40 112.07 200.97 112.48 202.64 C112.90 204.32 113.32 206.93 113.74 208.92 C114.15 210.90 114.61 213.51 114.99 214.56 C115.37 215.61 115.64 216.13 115.99 215.19 C116.35 214.25 116.66 211.63 117.12 208.92 C117.58 206.20 118.27 201.14 118.75 198.88 C119.23 196.62 119.58 195.68 120.00 195.37 C120.42 195.05 120.84 196.20 121.25 197.00 C121.67 197.79 122.03 198.88 122.51 200.13 C122.99 201.39 123.57 203.38 124.14 204.53 C124.70 205.67 125.33 206.82 125.89 207.03 C126.46 207.24 126.98 205.67 127.52 205.78 C128.06 205.88 128.63 207.14 129.15 207.66 C129.67 208.18 130.15 208.92 130.65 208.92 C131.15 208.92 131.64 207.97 132.16 207.66 C132.68 207.35 133.31 206.82 133.79 207.03 C134.27 207.24 134.56 208.18 135.04 208.92 C135.52 209.65 136.11 210.69 136.67 211.42 C137.22 212.16 137.84 213.14 138.36 213.31 C138.89 213.47 139.36 212.53 139.81 212.43 C140.26 212.32 140.60 212.43 141.06 212.68 C141.52 212.93 142.04 214.04 142.56 213.93 C143.09 213.83 143.71 212.57 144.19 212.05 C144.67 211.53 145.03 210.59 145.45 210.80 C145.86 211.01 146.22 212.36 146.70 213.31 C147.18 214.25 147.85 216.13 148.33 216.44 C148.81 216.76 149.16 216.65 149.58 215.19 C150.00 213.72 150.42 209.96 150.83 207.66 C151.25 205.36 151.67 202.89 152.09 201.39 C152.50 199.88 152.88 198.84 153.34 198.63 C153.80 198.42 154.34 199.47 154.84 200.13 C155.35 200.80 155.83 201.70 156.35 202.64 C156.87 203.58 157.43 204.73 157.98 205.78 C158.52 206.82 159.08 208.60 159.61 208.92 C160.13 209.23 160.61 208.18 161.11 207.66 C161.61 207.14 162.15 205.99 162.61 205.78 C163.07 205.57 163.45 206.09 163.87 206.41 C164.28 206.72 164.70 207.56 165.12 207.66 C165.54 207.77 165.89 207.35 166.37 207.03 C166.85 206.72 167.46 205.78 168.00 205.78 C168.54 205.78 169.15 206.30 169.63 207.03 C170.11 207.77 170.42 209.02 170.88 210.17 C171.34 211.32 171.93 213.31 172.39 213.93 C172.85 214.56 173.22 214.98 173.64 213.93 C174.06 212.89 174.48 209.96 174.89 207.66 C175.31 205.36 175.73 202.06 176.15 200.13 C176.56 198.21 176.98 196.50 177.40 196.12 C177.82 195.74 178.24 197.00 178.65 197.88 C179.07 198.76 179.45 200.18 179.91 201.39 C180.37 202.60 180.89 204.11 181.41 205.15 C181.93 206.20 182.50 207.35 183.04 207.66 C183.58 207.97 184.15 207.28 184.67 207.03 C185.19 206.78 185.82 206.16 186.17 206.16 C186.53 206.16 186.43 206.36 186.80 207.03 C187.18 207.70 187.89 209.86 188.43 210.17 C188.98 210.48 189.54 209.33 190.06 208.92 C190.58 208.50 191.06 207.66 191.57 207.66 C192.07 207.66 192.61 208.50 193.07 208.92 C193.53 209.33 193.84 209.65 194.32 210.17 C194.80 210.69 195.47 212.16 195.95 212.05 C196.43 211.95 196.79 210.38 197.20 209.54 C197.62 208.71 198.04 207.14 198.46 207.03 C198.88 206.93 199.29 207.87 199.71 208.92 C200.13 209.96 200.55 212.16 200.96 213.31 C201.38 214.46 201.74 215.71 202.22 215.81 C202.70 215.92 203.32 214.46 203.85 213.93 C204.37 213.41 204.85 212.89 205.35 212.68 C205.85 212.47 206.33 212.36 206.85 212.68 C207.38 212.99 207.94 213.93 208.48 214.56 C209.03 215.19 209.63 216.44 210.11 216.44 C210.59 216.44 210.95 216.02 211.37 214.56 C211.78 213.10 212.16 210.17 212.62 207.66 C213.08 205.15 213.62 201.43 214.12 199.51 C214.62 197.58 215.10 196.43 215.63 196.12 C216.15 195.81 216.77 196.75 217.25 197.63 C217.74 198.50 218.09 199.93 218.51 201.39 C218.93 202.85 219.28 205.05 219.76 206.41 C220.24 207.77 220.87 209.23 221.39 209.54 C221.91 209.86 222.39 208.71 222.89 208.29 C223.40 207.87 223.88 207.03 224.40 207.03 C224.92 207.03 225.48 207.87 226.03 208.29 C226.57 208.71 227.13 209.33 227.66 209.54 C228.18 209.75 228.66 209.33 229.16 209.54 C229.66 209.75 230.14 210.17 230.66 210.80 C231.19 211.42 231.75 213.10 232.29 213.31 C232.84 213.51 233.54 212.32 233.92 212.05 C234.30 211.78 234.24 211.36 234.55 211.67 C234.87 211.99 235.35 213.14 235.81 213.93 C236.27 214.73 236.85 215.92 237.31 216.44 C237.77 216.96 238.15 217.70 238.56 217.07 C238.98 216.44 239.40 214.66 239.82 212.68 C240.23 210.69 240.59 207.66 241.07 205.15 C241.55 202.64 242.16 199.51 242.70 197.63 C243.24 195.74 243.81 194.59 244.33 193.86 C244.85 193.13 245.33 193.13 245.83 193.24 C246.33 193.34 246.81 194.07 247.34 194.49 C247.86 194.91 248.42 195.33 248.96 195.74 C249.51 196.16 250.11 196.27 250.59 197.00 C251.07 197.73 251.43 198.88 251.85 200.13 C252.26 201.39 252.64 203.17 253.10 204.53 C253.56 205.88 254.14 207.35 254.60 208.29 C255.06 209.23 255.40 210.07 255.86 210.17 C256.32 210.27 256.90 209.33 257.36 208.92 C257.82 208.50 258.20 207.66 258.61 207.66 C259.03 207.66 259.45 208.60 259.87 208.92 C260.28 209.23 260.70 209.75 261.12 209.54 C261.54 209.33 261.95 208.18 262.37 207.66 C262.79 207.14 263.21 206.24 263.63 206.41 C264.04 206.57 264.46 207.62 264.88 208.66 C265.30 209.71 265.65 211.49 266.13 212.68 C266.61 213.87 267.22 215.08 267.76 215.81 C268.30 216.55 268.87 217.07 269.39 217.07 C269.91 217.07 270.33 216.13 270.89 215.81 C271.46 215.50 272.19 215.40 272.77 215.19 C273.36 214.98 273.88 215.08 274.40 214.56 C274.92 214.04 275.45 212.68 275.91 212.05 C276.37 211.42 276.74 210.80 277.16 210.80 C277.58 210.80 277.95 211.57 278.41 212.05 C278.87 212.53 279.39 213.79 279.92 213.68 C280.44 213.58 281.11 211.80 281.55 211.42 C281.99 211.05 282.18 210.90 282.55 211.42 C282.93 211.95 283.35 213.83 283.81 214.56 C284.27 215.29 284.85 216.13 285.31 215.81 C285.77 215.50 286.15 214.46 286.56 212.68 C286.98 210.90 287.34 207.66 287.82 205.15 C288.30 202.64 288.90 199.51 289.45 197.63 C289.99 195.74 290.59 194.28 291.07 193.86 C291.55 193.44 291.91 194.18 292.33 195.12 C292.75 196.06 293.16 198.15 293.58 199.51 C294.00 200.87 294.37 202.23 294.83 203.27 C295.29 204.32 295.84 205.05 296.34 205.78 C296.84 206.51 297.38 207.14 297.84 207.66 C298.30 208.18 298.61 209.12 299.09 208.92 C299.57 208.71 300.24 206.62 300.72 206.41 C301.20 206.20 301.56 206.93 301.98 207.66 C302.39 208.39 302.81 209.96 303.23 210.80 C303.65 211.63 304.07 212.57 304.48 212.68 C304.90 212.78 305.32 211.95 305.74 211.42 C306.15 210.90 306.57 209.79 306.99 209.54 C307.41 209.29 307.82 209.61 308.24 209.92 C308.66 210.23 309.08 210.76 309.50 211.42 C309.91 212.09 310.33 213.83 310.75 213.93 C311.17 214.04 311.58 213.51 312.00 212.05 C312.42 210.59 312.84 207.56 313.25 205.15 C313.67 202.75 314.09 199.51 314.51 197.63 C314.93 195.74 315.34 194.32 315.76 193.86 C316.18 193.40 316.60 194.03 317.01 194.87 C317.43 195.70 317.85 197.38 318.27 198.88 C318.69 200.39 319.04 202.43 319.52 203.90 C320.00 205.36 320.63 207.03 321.15 207.66 C321.67 208.29 322.15 207.77 322.65 207.66 C323.15 207.56 323.64 207.28 324.16 207.03 C324.68 206.78 325.24 206.68 325.79 206.16 C326.33 205.63 326.93 204.53 327.42 203.90 C327.90 203.27 328.18 202.34 328.67 202.39 C329.16 202.44 329.80 203.33 330.36 204.21 C330.93 205.09 331.50 206.56 332.06 207.66 C332.61 208.76 333.14 209.86 333.69 210.80 C334.23 211.74 334.83 212.99 335.32 213.31 C335.80 213.62 336.15 214.04 336.57 212.68 C336.99 211.32 337.36 207.66 337.82 205.15 C338.28 202.64 338.82 199.55 339.33 197.63 C339.83 195.70 340.37 194.03 340.83 193.61 C341.29 193.19 341.66 194.03 342.08 195.12 C342.50 196.20 342.85 198.36 343.34 200.13 C343.82 201.91 344.42 204.21 344.96 205.78 C345.51 207.35 346.07 208.60 346.59 209.54 C347.12 210.48 347.64 211.32 348.10 211.42 C348.56 211.53 348.89 210.69 349.35 210.17 C349.81 209.65 350.33 208.71 350.85 208.29 C351.38 207.87 352.00 208.08 352.48 207.66 C352.96 207.24 353.32 206.41 353.74 205.78 C354.15 205.15 354.57 203.90 354.99 203.90 C355.41 203.90 355.82 204.94 356.24 205.78 C356.66 206.62 357.02 207.81 357.50 208.92 C357.98 210.02 358.64 211.59 359.12 212.43 C359.60 213.26 359.96 214.10 360.38 213.93 C360.80 213.77 361.21 212.89 361.63 211.42 C362.05 209.96 362.42 207.24 362.88 205.15 C363.34 203.06 363.93 200.45 364.39 198.88 C364.85 197.31 365.22 196.06 365.64 195.74 C366.06 195.43 366.48 196.06 366.89 197.00 C367.31 197.94 367.69 199.82 368.15 201.39 C368.61 202.96 369.13 204.99 369.65 206.41 C370.17 207.83 370.80 209.29 371.28 209.92 C371.76 210.55 372.12 210.65 372.53 210.17 C372.95 209.69 373.37 208.18 373.79 207.03 C374.20 205.88 374.56 204.32 375.04 203.27 C375.52 202.23 376.15 201.28 376.67 200.76 C377.19 200.24 377.82 200.24 378.17 200.13 C378.53 200.03 378.43 199.93 378.80 200.13 C379.18 200.34 379.89 200.76 380.43 201.39 C380.98 202.02 381.58 202.64 382.06 203.90 C382.54 205.15 382.96 207.35 383.32 208.92 C383.67 210.48 383.84 212.26 384.19 213.31 C384.55 214.35 385.03 215.19 385.45 215.19 C385.86 215.19 386.28 214.98 386.70 213.31 C387.12 211.63 387.53 207.56 387.95 205.15 C388.37 202.75 388.79 200.51 389.20 198.88 C389.62 197.25 390.04 195.68 390.46 195.37 C390.88 195.05 391.29 195.79 391.71 197.00 C392.13 198.21 392.48 201.08 392.96 202.64 C393.44 204.21 394.07 205.57 394.59 206.41 C395.12 207.24 395.60 207.66 396.10 207.66 C396.60 207.66 397.08 206.62 397.60 206.41 C398.12 206.20 398.69 206.36 399.23 206.41 C399.77 206.45 400.34 206.82 400.86 206.66 C401.38 206.49 401.86 205.34 402.36 205.40 C402.86 205.47 403.34 206.34 403.87 207.03 C404.39 207.72 404.91 208.81 405.50 209.54 C406.08 210.27 406.81 210.69 407.38 211.42 C407.94 212.16 408.42 213.31 408.88 213.93 C409.34 214.56 409.71 215.50 410.13 215.19 C410.55 214.87 410.97 213.72 411.39 212.05 C411.80 210.38 412.22 207.35 412.64 205.15 C413.06 202.96 413.47 200.51 413.89 198.88 C414.31 197.25 414.73 195.79 415.14 195.37 C415.56 194.95 415.98 195.58 416.40 196.37 C416.82 197.17 417.23 198.78 417.65 200.13 C418.07 201.49 418.49 203.27 418.90 204.53 C419.32 205.78 419.68 206.72 420.16 207.66 C420.64 208.60 421.31 209.65 421.79 210.17 C422.27 210.69 422.56 211.01 423.04 210.80 C423.52 210.59 424.11 209.27 424.67 208.92 C425.22 208.56 425.80 208.98 426.36 208.66 C426.93 208.35 427.57 207.20 428.06 207.03 C428.55 206.87 428.89 207.03 429.31 207.66 C429.73 208.29 430.15 210.00 430.56 210.80 C430.98 211.59 431.40 212.07 431.82 212.43 C432.23 212.78 432.59 212.57 433.07 212.93 C433.55 213.28 434.22 214.18 434.70 214.56 C435.18 214.94 435.53 216.13 435.95 215.19 C436.37 214.25 436.79 211.32 437.20 208.92 C437.62 206.51 437.98 203.17 438.46 200.76 C438.94 198.36 439.61 195.54 440.09 194.49 C440.57 193.44 440.92 193.76 441.34 194.49 C441.76 195.22 442.13 197.00 442.59 198.88 C443.05 200.76 443.60 203.90 444.10 205.78 C444.60 207.66 445.14 209.27 445.60 210.17 C446.06 211.07 446.44 211.38 446.85 211.17 C447.27 210.96 447.69 209.71 448.11 208.92 C448.52 208.12 448.88 206.93 449.36 206.41 C449.84 205.88 450.45 206.24 450.99 205.78 C451.53 205.32 452.14 204.07 452.62 203.65 C453.10 203.23 453.45 202.92 453.87 203.27 C454.29 203.63 454.71 204.94 455.12 205.78 C455.54 206.62 455.96 208.39 456.38 208.29 C456.80 208.18 457.21 206.72 457.63 205.15 C458.05 203.58 458.42 200.80 458.88 198.88 C459.34 196.96 459.89 194.24 460.39 193.61 C460.89 192.99 461.43 193.61 461.89 195.12 C462.35 196.62 462.73 199.93 463.14 202.64 C463.56 205.36 463.98 209.54 464.40 211.42 C464.82 213.31 465.23 213.83 465.65 213.93 C466.07 214.04 466.49 213.93 466.90 212.05 C467.32 210.17 467.74 205.47 468.16 202.64 C468.57 199.82 468.99 196.58 469.41 195.12 C469.83 193.65 470.25 193.55 470.66 193.86 C471.08 194.18 471.44 195.54 471.92 197.00 C472.40 198.46 473.15 201.18 473.55 202.64 C473.94 204.11 473.93 205.11 474.31 205.78 C474.69 206.45 475.29 206.45 475.82 206.66 C476.34 206.87 476.90 207.03 477.45 207.03 C477.99 207.03 478.59 207.01 479.07 206.66 C479.55 206.30 479.91 205.67 480.33 204.90 C480.75 204.13 481.23 202.71 481.58 202.02 C481.94 201.33 482.17 200.66 482.46 200.76 C482.75 200.87 482.98 201.60 483.34 202.64 C483.69 203.69 484.17 205.57 484.59 207.03 C485.01 208.50 485.42 210.48 485.84 211.42 C486.26 212.36 486.68 213.10 487.09 212.68 C487.51 212.26 487.93 210.80 488.35 208.92 C488.77 207.03 489.22 203.48 489.60 201.39 C489.98 199.30 490.27 197.42 490.60 196.37 C490.94 195.33 491.23 195.01 491.61 195.12 C491.98 195.22 492.44 195.95 492.86 197.00 C493.28 198.04 493.69 200.03 494.11 201.39 C494.53 202.75 494.95 204.36 495.37 205.15 C495.78 205.95 496.26 205.53 496.62 206.16 C496.97 206.78 497.20 207.72 497.50 208.92 C497.79 210.11 498.06 211.84 498.37 213.31 C498.69 214.77 499.08 216.65 499.38 217.70 C499.67 218.74 500.00 219.26 500.13 219.58" fill="none" stroke="#000080" stroke-width="1.75" stroke-linejoin="round" stroke-linecap="square"/>
<path d="M44.81 194.09 C45.06 191.89 45.81 184.74 46.31 180.92 C46.81 177.09 47.40 172.39 47.82 171.13 C48.23 169.88 48.44 171.55 48.82 173.39 C49.19 175.23 49.55 178.82 50.07 182.17 C50.59 185.51 51.43 192.62 51.95 193.46 C52.47 194.30 52.79 190.11 53.20 187.19 C53.62 184.26 54.04 178.72 54.46 175.90 C54.88 173.08 55.19 170.99 55.71 170.25 C56.23 169.52 56.86 171.19 57.59 171.51 C58.32 171.82 59.26 171.99 60.10 172.13 C60.93 172.28 61.87 172.07 62.60 172.39 C63.33 172.70 63.86 172.59 64.48 174.02 C65.11 175.44 65.84 179.56 66.36 180.92 C66.88 182.27 67.16 182.59 67.62 182.17 C68.08 181.75 68.60 179.66 69.12 178.41 C69.64 177.15 70.27 174.43 70.75 174.64 C71.23 174.85 71.52 177.78 72.00 179.66 C72.48 181.54 73.00 185.14 73.63 185.93 C74.26 186.73 75.09 184.85 75.76 184.43 C76.43 184.01 77.18 183.28 77.64 183.42 C78.10 183.57 78.10 185.62 78.52 185.31 C78.94 184.99 79.62 183.11 80.15 181.54 C80.67 179.97 81.13 177.63 81.65 175.90 C82.17 174.16 82.70 171.76 83.28 171.13 C83.86 170.50 84.60 172.07 85.16 172.13 C85.72 172.20 86.14 171.82 86.66 171.51 C87.19 171.19 87.81 170.32 88.29 170.25 C88.77 170.19 89.15 170.66 89.55 171.13 C89.94 171.60 90.34 171.44 90.68 173.08 C91.01 174.71 91.16 178.46 91.56 180.92 C91.95 183.37 92.56 186.87 93.06 187.81 C93.56 188.76 94.04 187.19 94.56 186.56 C95.09 185.93 95.61 184.78 96.19 184.05 C96.78 183.32 97.55 182.27 98.07 182.17 C98.59 182.07 98.91 183.42 99.33 183.42 C99.74 183.42 100.06 182.59 100.58 182.17 C101.10 181.75 101.87 181.96 102.46 180.92 C103.04 179.87 103.56 177.47 104.09 175.90 C104.61 174.33 105.09 172.39 105.59 171.51 C106.09 170.63 106.57 170.21 107.09 170.63 C107.62 171.05 108.10 172.72 108.72 174.02 C109.35 175.31 110.23 178.09 110.85 178.41 C111.48 178.72 111.94 176.94 112.48 175.90 C113.03 174.85 113.59 172.97 114.11 172.13 C114.63 171.30 115.20 170.25 115.62 170.88 C116.03 171.51 116.24 174.02 116.62 175.90 C116.99 177.78 117.41 180.60 117.87 182.17 C118.33 183.74 118.81 184.99 119.38 185.31 C119.94 185.62 120.63 184.57 121.25 184.05 C121.88 183.53 122.57 182.17 123.13 182.17 C123.70 182.17 124.12 184.16 124.64 184.05 C125.16 183.95 125.79 182.17 126.27 181.54 C126.75 180.92 127.04 181.23 127.52 180.29 C128.00 179.35 128.63 177.36 129.15 175.90 C129.67 174.43 130.19 172.45 130.65 171.51 C131.11 170.57 131.38 170.32 131.91 170.25 C132.43 170.19 133.16 171.07 133.79 171.13 C134.41 171.19 135.04 170.88 135.67 170.63 C136.29 170.38 136.96 169.75 137.55 169.63 C138.13 169.50 138.59 169.92 139.18 169.88 C139.77 169.84 140.43 169.42 141.06 169.38 C141.69 169.33 142.42 169.27 142.94 169.63 C143.46 169.98 143.77 170.99 144.19 171.51 C144.61 172.03 144.96 172.76 145.45 172.76 C145.93 172.76 146.59 171.86 147.07 171.51 C147.55 171.15 147.91 170.53 148.33 170.63 C148.75 170.73 149.23 171.26 149.58 172.13 C149.94 173.01 150.10 174.23 150.46 175.90 C150.81 177.57 151.29 180.81 151.71 182.17 C152.13 183.53 152.55 183.84 152.96 184.05 C153.38 184.26 153.74 183.78 154.22 183.42 C154.70 183.07 155.32 182.02 155.85 181.92 C156.37 181.81 156.85 182.38 157.35 182.80 C157.85 183.21 158.33 184.28 158.85 184.43 C159.38 184.57 160.00 183.84 160.48 183.67 C160.96 183.51 161.32 184.30 161.74 183.42 C162.15 182.55 162.57 180.08 162.99 178.41 C163.41 176.73 163.76 174.64 164.24 173.39 C164.72 172.13 165.35 171.34 165.87 170.88 C166.39 170.42 166.81 170.53 167.38 170.63 C167.94 170.73 168.67 171.42 169.25 171.51 C169.84 171.59 170.36 171.07 170.88 171.13 C171.41 171.19 171.93 171.72 172.39 171.88 C172.85 172.05 173.26 171.67 173.64 172.13 C174.02 172.59 174.33 173.39 174.64 174.64 C174.96 175.90 175.23 177.99 175.52 179.66 C175.81 181.33 176.08 183.42 176.40 184.68 C176.71 185.93 177.02 186.98 177.40 187.19 C177.78 187.40 178.24 186.35 178.65 185.93 C179.07 185.51 179.45 184.99 179.91 184.68 C180.37 184.36 180.89 184.36 181.41 184.05 C181.93 183.74 182.50 183.53 183.04 182.80 C183.58 182.07 184.11 180.81 184.67 179.66 C185.22 178.51 185.74 177.26 186.36 175.90 C186.99 174.54 187.77 172.34 188.43 171.51 C189.09 170.67 189.69 170.94 190.31 170.88 C190.94 170.82 191.61 171.24 192.19 171.13 C192.78 171.03 193.30 170.25 193.82 170.25 C194.34 170.25 194.82 170.71 195.33 171.13 C195.83 171.55 196.31 172.07 196.83 172.76 C197.35 173.45 197.98 175.27 198.46 175.27 C198.94 175.27 199.29 173.66 199.71 172.76 C200.13 171.86 200.48 170.50 200.96 169.88 C201.44 169.25 202.07 169.00 202.59 169.00 C203.12 169.00 203.60 169.40 204.10 169.88 C204.60 170.36 205.08 171.30 205.60 171.88 C206.12 172.47 206.69 173.24 207.23 173.39 C207.77 173.54 208.38 173.01 208.86 172.76 C209.34 172.51 209.76 171.82 210.11 171.88 C210.47 171.95 210.70 172.47 210.99 173.14 C211.28 173.81 211.51 174.60 211.87 175.90 C212.22 177.19 212.70 179.35 213.12 180.92 C213.54 182.48 213.95 184.68 214.37 185.31 C214.79 185.93 215.21 185.20 215.63 184.68 C216.04 184.16 216.40 182.69 216.88 182.17 C217.36 181.65 217.96 181.75 218.51 181.54 C219.05 181.33 219.61 181.02 220.14 180.92 C220.66 180.81 221.14 181.12 221.64 180.92 C222.14 180.71 222.69 180.29 223.14 179.66 C223.60 179.03 223.98 178.09 224.40 177.15 C224.82 176.21 225.17 174.96 225.65 174.02 C226.13 173.08 226.70 172.13 227.28 171.51 C227.86 170.88 228.53 170.53 229.16 170.25 C229.79 169.98 230.41 169.81 231.04 169.88 C231.67 169.94 232.32 170.39 232.92 170.63 C233.51 170.87 234.03 171.24 234.61 171.32 C235.20 171.40 235.82 171.10 236.43 171.13 C237.05 171.16 237.79 171.13 238.31 171.51 C238.83 171.88 239.19 172.45 239.57 173.39 C239.94 174.33 240.19 175.69 240.57 177.15 C240.94 178.62 241.36 180.50 241.82 182.17 C242.28 183.84 242.87 185.62 243.33 187.19 C243.78 188.76 244.16 190.74 244.58 191.58 C245.00 192.41 245.37 192.31 245.83 192.20 C246.29 192.10 246.88 191.05 247.34 190.95 C247.79 190.85 248.17 191.37 248.59 191.58 C249.01 191.79 249.42 192.62 249.84 192.20 C250.26 191.79 250.68 190.01 251.09 189.07 C251.51 188.13 251.87 187.29 252.35 186.56 C252.83 185.83 253.43 185.41 253.98 184.68 C254.52 183.95 255.04 183.01 255.61 182.17 C256.17 181.33 256.80 180.81 257.36 179.66 C257.92 178.51 258.51 176.63 258.99 175.27 C259.47 173.91 259.76 172.34 260.24 171.51 C260.72 170.67 261.35 170.36 261.87 170.25 C262.39 170.15 262.81 170.88 263.38 170.88 C263.94 170.88 264.67 170.46 265.25 170.25 C265.84 170.04 266.32 169.90 266.88 169.63 C267.45 169.35 268.01 168.87 268.64 168.62 C269.26 168.37 270.06 168.12 270.64 168.12 C271.23 168.12 271.65 168.27 272.15 168.62 C272.65 168.98 273.13 169.84 273.65 170.25 C274.17 170.67 274.74 171.07 275.28 171.13 C275.82 171.19 276.39 170.92 276.91 170.63 C277.43 170.34 277.91 169.65 278.41 169.38 C278.91 169.10 279.46 168.85 279.92 169.00 C280.38 169.15 280.72 169.68 281.17 170.25 C281.62 170.83 282.07 171.93 282.61 172.45 C283.16 172.97 283.82 173.44 284.43 173.39 C285.05 173.34 285.79 171.72 286.31 172.13 C286.83 172.55 287.15 174.23 287.57 175.90 C287.98 177.57 288.40 180.29 288.82 182.17 C289.24 184.05 289.65 186.14 290.07 187.19 C290.49 188.23 290.91 188.76 291.33 188.44 C291.74 188.13 292.16 186.46 292.58 185.31 C293.00 184.16 293.41 181.75 293.83 181.54 C294.25 181.33 294.62 182.90 295.08 184.05 C295.54 185.20 296.13 188.13 296.59 188.44 C297.05 188.76 297.42 186.87 297.84 185.93 C298.26 184.99 298.61 184.05 299.09 182.80 C299.57 181.54 300.18 179.87 300.72 178.41 C301.27 176.94 301.83 175.23 302.35 174.02 C302.87 172.80 303.29 171.65 303.86 171.13 C304.42 170.61 305.11 170.88 305.74 170.88 C306.36 170.88 306.99 171.09 307.62 171.13 C308.24 171.17 308.91 171.13 309.50 171.13 C310.08 171.13 310.64 170.55 311.12 171.13 C311.60 171.72 311.96 173.01 312.38 174.64 C312.80 176.27 313.21 179.03 313.63 180.92 C314.05 182.80 314.47 184.89 314.88 185.93 C315.30 186.98 315.68 187.40 316.14 187.19 C316.60 186.98 317.18 185.51 317.64 184.68 C318.10 183.84 318.43 182.80 318.89 182.17 C319.35 181.54 319.94 181.23 320.40 180.92 C320.86 180.60 321.17 180.81 321.65 180.29 C322.13 179.77 322.80 178.72 323.28 177.78 C323.76 176.84 324.05 175.58 324.53 174.64 C325.01 173.70 325.60 172.45 326.16 172.13 C326.73 171.82 327.35 172.76 327.92 172.76 C328.48 172.76 329.06 172.20 329.55 172.13 C330.03 172.07 330.32 172.49 330.80 172.39 C331.28 172.28 331.89 171.80 332.43 171.51 C332.98 171.21 333.54 170.69 334.06 170.63 C334.58 170.57 335.11 170.46 335.57 171.13 C336.03 171.80 336.40 173.01 336.82 174.64 C337.24 176.27 337.61 179.03 338.07 180.92 C338.53 182.80 339.12 184.99 339.58 185.93 C340.04 186.87 340.35 186.77 340.83 186.56 C341.31 186.35 341.91 185.41 342.46 184.68 C343.00 183.95 343.52 182.90 344.09 182.17 C344.65 181.44 345.34 180.29 345.84 180.29 C346.34 180.29 346.68 181.23 347.09 182.17 C347.51 183.11 347.93 185.41 348.35 185.93 C348.77 186.46 349.18 186.35 349.60 185.31 C350.02 184.26 350.44 181.54 350.85 179.66 C351.27 177.78 351.69 175.27 352.11 174.02 C352.52 172.76 352.88 172.24 353.36 172.13 C353.84 172.03 354.45 173.28 354.99 173.39 C355.53 173.49 356.10 173.01 356.62 172.76 C357.14 172.51 357.62 172.20 358.12 171.88 C358.62 171.57 359.17 170.84 359.63 170.88 C360.09 170.92 360.46 171.09 360.88 172.13 C361.30 173.18 361.71 175.38 362.13 177.15 C362.55 178.93 362.97 181.44 363.39 182.80 C363.80 184.16 364.22 185.10 364.64 185.31 C365.06 185.51 365.41 184.57 365.89 184.05 C366.37 183.53 366.98 182.48 367.52 182.17 C368.06 181.86 368.63 182.38 369.15 182.17 C369.67 181.96 370.15 181.23 370.65 180.92 C371.15 180.60 371.64 180.50 372.16 180.29 C372.68 180.08 373.31 180.08 373.79 179.66 C374.27 179.24 374.56 178.51 375.04 177.78 C375.52 177.05 376.15 175.84 376.67 175.27 C377.19 174.71 377.82 174.50 378.17 174.39 C378.53 174.29 378.43 174.64 378.80 174.64 C379.18 174.64 379.85 174.71 380.43 174.39 C381.02 174.08 381.69 173.31 382.31 172.76 C382.94 172.22 383.67 171.28 384.19 171.13 C384.71 170.99 385.03 171.09 385.45 171.88 C385.86 172.68 386.28 174.39 386.70 175.90 C387.12 177.40 387.53 179.35 387.95 180.92 C388.37 182.48 388.79 184.68 389.20 185.31 C389.62 185.93 390.04 185.20 390.46 184.68 C390.88 184.16 391.29 182.80 391.71 182.17 C392.13 181.54 392.55 180.92 392.96 180.92 C393.38 180.92 393.80 182.13 394.22 182.17 C394.64 182.21 394.99 181.48 395.47 181.17 C395.95 180.85 396.58 180.75 397.10 180.29 C397.62 179.83 398.14 179.14 398.60 178.41 C399.06 177.67 399.44 176.69 399.86 175.90 C400.27 175.10 400.69 174.10 401.11 173.64 C401.53 173.18 401.90 173.39 402.36 173.14 C402.82 172.89 403.34 172.41 403.87 172.13 C404.39 171.86 404.95 171.55 405.50 171.51 C406.04 171.47 406.60 171.95 407.12 171.88 C407.65 171.82 408.13 171.34 408.63 171.13 C409.13 170.92 409.71 170.25 410.13 170.63 C410.55 171.01 410.76 172.09 411.13 173.39 C411.51 174.69 411.97 176.73 412.39 178.41 C412.81 180.08 413.22 182.27 413.64 183.42 C414.06 184.57 414.48 185.20 414.89 185.31 C415.31 185.41 415.73 184.68 416.15 184.05 C416.56 183.42 416.98 182.07 417.40 181.54 C417.82 181.02 418.28 180.71 418.65 180.92 C419.03 181.12 419.34 182.07 419.66 182.80 C419.97 183.53 420.18 185.20 420.53 185.31 C420.89 185.41 421.37 184.36 421.79 183.42 C422.20 182.48 422.56 180.71 423.04 179.66 C423.52 178.62 424.14 178.04 424.67 177.15 C425.20 176.26 425.71 174.96 426.24 174.33 C426.76 173.70 427.23 173.71 427.81 173.39 C428.38 173.07 429.06 172.70 429.69 172.39 C430.31 172.07 430.94 171.76 431.57 171.51 C432.19 171.26 432.86 171.09 433.45 170.88 C434.03 170.67 434.66 170.21 435.07 170.25 C435.49 170.30 435.60 170.19 435.95 171.13 C436.31 172.07 436.79 174.27 437.20 175.90 C437.62 177.53 438.04 179.35 438.46 180.92 C438.88 182.48 439.29 184.57 439.71 185.31 C440.13 186.04 440.55 185.72 440.96 185.31 C441.38 184.89 441.80 183.42 442.22 182.80 C442.64 182.17 443.05 181.33 443.47 181.54 C443.89 181.75 444.37 183.74 444.72 184.05 C445.08 184.36 445.25 184.16 445.60 183.42 C445.96 182.69 446.44 180.50 446.85 179.66 C447.27 178.82 447.69 178.82 448.11 178.41 C448.52 177.99 448.88 177.88 449.36 177.15 C449.84 176.42 450.45 174.69 450.99 174.02 C451.53 173.35 452.10 173.24 452.62 173.14 C453.14 173.03 453.56 173.51 454.12 173.39 C454.69 173.26 455.48 172.43 456.00 172.39 C456.52 172.34 456.84 172.55 457.25 173.14 C457.67 173.72 458.09 174.92 458.51 175.90 C458.93 176.88 459.34 178.41 459.76 179.03 C460.18 179.66 460.60 179.97 461.01 179.66 C461.43 179.35 461.85 177.99 462.27 177.15 C462.69 176.32 463.10 175.27 463.52 174.64 C463.94 174.02 464.42 173.39 464.77 173.39 C465.13 173.39 465.34 173.81 465.65 174.64 C465.96 175.48 466.32 176.94 466.65 178.41 C466.99 179.87 467.28 182.27 467.66 183.42 C468.03 184.57 468.49 185.20 468.91 185.31 C469.33 185.41 469.74 184.62 470.16 184.05 C470.58 183.49 471.00 182.13 471.42 181.92 C471.83 181.71 472.14 181.71 472.67 182.80 C473.19 183.88 474.04 188.02 474.56 188.44 C475.09 188.86 475.40 186.66 475.82 185.31 C476.23 183.95 476.59 181.86 477.07 180.29 C477.55 178.72 478.16 177.01 478.70 175.90 C479.24 174.79 479.81 173.85 480.33 173.64 C480.85 173.43 481.33 174.69 481.83 174.64 C482.33 174.60 482.88 173.77 483.34 173.39 C483.79 173.01 484.11 172.76 484.59 172.39 C485.07 172.01 485.80 170.96 486.22 171.13 C486.64 171.30 486.78 171.97 487.09 173.39 C487.41 174.81 487.76 177.88 488.10 179.66 C488.43 181.44 488.72 183.11 489.10 184.05 C489.48 184.99 489.93 185.51 490.35 185.31 C490.77 185.10 491.19 183.42 491.61 182.80 C492.02 182.17 492.44 181.44 492.86 181.54 C493.28 181.65 493.65 182.38 494.11 183.42 C494.57 184.47 495.20 187.50 495.62 187.81 C496.03 188.13 496.31 186.66 496.62 185.31 C496.93 183.95 497.20 180.81 497.50 179.66 C497.79 178.51 498.06 177.36 498.37 178.41 C498.69 179.45 499.10 183.42 499.38 185.93 C499.65 188.44 499.90 192.20 500.00 193.46" fill="none" stroke="#ff8c00" stroke-width="1.75" stroke-linejoin="round" stroke-linecap="square"/>
<path d="M44.81 243.70 C45.16 244.43 46.38 247.67 46.94 248.09 C47.50 248.50 47.67 248.09 48.19 246.20 C48.71 244.32 49.45 239.62 50.07 236.80 C50.70 233.97 51.43 229.79 51.95 229.27 C52.47 228.75 52.72 230.84 53.20 233.66 C53.69 236.48 54.35 244.22 54.83 246.20 C55.31 248.19 55.63 246.31 56.09 245.58 C56.55 244.85 57.03 242.65 57.59 241.81 C58.15 240.98 58.95 240.46 59.47 240.56 C59.99 240.66 60.31 242.44 60.72 242.44 C61.14 242.44 61.56 241.08 61.98 240.56 C62.39 240.04 62.71 240.66 63.23 239.31 C63.75 237.95 64.48 234.08 65.11 232.41 C65.74 230.73 66.47 229.90 66.99 229.27 C67.51 228.64 67.82 228.43 68.24 228.64 C68.66 228.85 69.04 229.90 69.50 230.53 C69.95 231.15 70.48 232.93 71.00 232.41 C71.52 231.88 72.11 228.60 72.63 227.39 C73.15 226.18 73.61 225.03 74.13 225.13 C74.65 225.24 75.18 227.12 75.76 228.02 C76.35 228.92 77.01 229.79 77.64 230.53 C78.27 231.26 78.89 231.67 79.52 232.41 C80.15 233.14 80.67 233.87 81.40 234.92 C82.13 235.96 83.07 237.42 83.91 238.68 C84.74 239.93 85.68 241.50 86.41 242.44 C87.14 243.38 87.71 244.53 88.29 244.32 C88.88 244.11 89.54 242.55 89.92 241.19 C90.30 239.83 90.24 238.26 90.55 236.17 C90.87 234.08 91.28 230.42 91.81 228.64 C92.33 226.87 93.10 225.82 93.69 225.51 C94.27 225.19 94.79 226.24 95.32 226.76 C95.84 227.28 96.25 227.91 96.82 228.64 C97.38 229.38 98.07 230.53 98.70 231.15 C99.33 231.78 99.95 231.88 100.58 232.41 C101.20 232.93 101.87 233.35 102.46 234.29 C103.04 235.23 103.56 236.90 104.09 238.05 C104.61 239.20 105.03 240.46 105.59 241.19 C106.15 241.92 106.89 242.55 107.47 242.44 C108.06 242.34 108.58 241.40 109.10 240.56 C109.62 239.72 110.14 237.84 110.60 237.42 C111.06 237.01 111.40 237.21 111.86 238.05 C112.32 238.89 112.94 241.61 113.36 242.44 C113.78 243.28 113.99 243.49 114.36 243.07 C114.74 242.65 115.16 241.71 115.62 239.93 C116.08 238.16 116.60 234.39 117.12 232.41 C117.64 230.42 118.21 228.85 118.75 228.02 C119.29 227.18 119.86 227.28 120.38 227.39 C120.90 227.49 121.32 228.12 121.88 228.64 C122.45 229.17 123.13 229.79 123.76 230.53 C124.39 231.26 125.01 232.30 125.64 233.03 C126.27 233.77 126.94 234.39 127.52 234.92 C128.11 235.44 128.63 235.54 129.15 236.17 C129.67 236.80 130.09 237.74 130.65 238.68 C131.22 239.62 131.91 240.98 132.53 241.81 C133.16 242.65 133.79 243.17 134.41 243.70 C135.04 244.22 135.67 244.57 136.29 244.95 C136.92 245.33 137.69 245.85 138.17 245.95 C138.65 246.06 138.70 245.85 139.18 245.58 C139.66 245.31 140.43 244.47 141.06 244.32 C141.69 244.18 142.31 244.85 142.94 244.70 C143.57 244.55 144.19 243.93 144.82 243.44 C145.45 242.96 146.07 242.40 146.70 241.81 C147.33 241.23 148.01 240.87 148.58 239.93 C149.14 238.99 149.62 237.63 150.08 236.17 C150.54 234.71 150.85 232.51 151.34 231.15 C151.82 229.79 152.38 228.75 152.96 228.02 C153.55 227.28 154.28 226.66 154.84 226.76 C155.41 226.87 155.83 227.91 156.35 228.64 C156.87 229.38 157.39 230.63 157.98 231.15 C158.56 231.67 159.23 231.57 159.86 231.78 C160.48 231.99 161.21 231.88 161.74 232.41 C162.26 232.93 162.57 233.97 162.99 234.92 C163.41 235.86 163.76 237.01 164.24 238.05 C164.72 239.10 165.35 240.35 165.87 241.19 C166.39 242.02 166.81 242.44 167.38 243.07 C167.94 243.70 168.67 244.43 169.25 244.95 C169.84 245.47 170.36 246.41 170.88 246.20 C171.41 246.00 171.89 245.37 172.39 243.70 C172.89 242.02 173.37 238.36 173.89 236.17 C174.41 233.97 174.98 232.03 175.52 230.53 C176.06 229.02 176.63 227.83 177.15 227.14 C177.67 226.45 178.19 226.24 178.65 226.39 C179.11 226.53 179.45 227.33 179.91 228.02 C180.37 228.71 180.89 229.79 181.41 230.53 C181.93 231.26 182.45 231.78 183.04 232.41 C183.62 233.03 184.29 233.66 184.92 234.29 C185.55 234.92 186.22 235.33 186.80 236.17 C187.39 237.01 187.85 238.26 188.43 239.31 C189.02 240.35 189.69 241.67 190.31 242.44 C190.94 243.21 191.57 243.57 192.19 243.95 C192.82 244.32 193.45 244.43 194.07 244.70 C194.70 244.97 195.43 245.49 195.95 245.58 C196.47 245.66 196.79 245.83 197.20 245.20 C197.62 244.57 198.04 242.73 198.46 241.81 C198.88 240.89 199.29 239.79 199.71 239.68 C200.13 239.58 200.55 240.41 200.96 241.19 C201.38 241.96 201.70 243.49 202.22 244.32 C202.74 245.16 203.53 245.79 204.10 246.20 C204.66 246.62 205.08 247.00 205.60 246.83 C206.12 246.66 206.65 246.04 207.23 245.20 C207.81 244.36 208.48 243.11 209.11 241.81 C209.74 240.52 210.40 239.10 210.99 237.42 C211.57 235.75 212.05 233.20 212.62 231.78 C213.18 230.36 213.81 229.42 214.37 228.89 C214.94 228.37 215.46 228.48 216.00 228.64 C216.54 228.81 217.11 229.38 217.63 229.90 C218.15 230.42 218.57 231.15 219.13 231.78 C219.70 232.41 220.39 233.18 221.01 233.66 C221.64 234.14 222.27 234.46 222.89 234.66 C223.52 234.87 224.19 234.46 224.77 234.92 C225.36 235.38 225.88 236.48 226.40 237.42 C226.92 238.36 227.41 239.77 227.91 240.56 C228.41 241.35 228.89 241.88 229.41 242.19 C229.93 242.50 230.45 242.36 231.04 242.44 C231.62 242.53 232.29 242.65 232.92 242.69 C233.55 242.73 234.22 242.57 234.80 242.69 C235.39 242.82 235.89 243.59 236.43 243.44 C236.98 243.30 237.58 242.61 238.06 241.81 C238.54 241.02 238.90 240.25 239.32 238.68 C239.73 237.11 240.11 234.08 240.57 232.41 C241.03 230.73 241.57 229.69 242.07 228.64 C242.57 227.60 243.05 226.97 243.58 226.13 C244.10 225.30 244.66 224.15 245.20 223.63 C245.75 223.10 246.31 223.17 246.83 223.00 C247.36 222.83 247.88 222.83 248.34 222.62 C248.80 222.41 249.17 221.58 249.59 221.74 C250.01 221.91 250.43 222.58 250.84 223.63 C251.26 224.67 251.68 226.87 252.10 228.02 C252.51 229.17 252.89 229.90 253.35 230.53 C253.81 231.15 254.33 231.47 254.85 231.78 C255.38 232.09 255.94 232.20 256.48 232.41 C257.03 232.62 257.59 232.51 258.11 233.03 C258.63 233.56 259.11 234.71 259.62 235.54 C260.12 236.38 260.60 237.42 261.12 238.05 C261.64 238.68 262.21 239.10 262.75 239.31 C263.29 239.51 263.86 239.10 264.38 239.31 C264.90 239.51 265.38 239.93 265.88 240.56 C266.38 241.19 266.93 242.44 267.39 243.07 C267.84 243.70 268.16 244.43 268.64 244.32 C269.12 244.22 269.72 243.01 270.27 242.44 C270.81 241.88 271.37 241.15 271.90 240.94 C272.42 240.73 272.90 241.25 273.40 241.19 C273.90 241.12 274.38 240.46 274.90 240.56 C275.43 240.66 276.05 241.75 276.53 241.81 C277.01 241.88 277.37 240.94 277.79 240.94 C278.20 240.94 278.56 241.46 279.04 241.81 C279.52 242.17 280.15 243.17 280.67 243.07 C281.19 242.96 281.82 241.61 282.17 241.19 C282.53 240.77 282.43 240.81 282.80 240.56 C283.18 240.31 283.89 240.00 284.43 239.68 C284.98 239.37 285.58 239.58 286.06 238.68 C286.54 237.78 286.90 235.65 287.32 234.29 C287.73 232.93 288.11 231.51 288.57 230.53 C289.03 229.54 289.57 228.87 290.07 228.39 C290.57 227.91 291.05 227.60 291.58 227.64 C292.10 227.68 292.72 228.16 293.20 228.64 C293.69 229.12 294.04 230.11 294.46 230.53 C294.88 230.94 295.23 231.15 295.71 231.15 C296.19 231.15 296.86 230.32 297.34 230.53 C297.82 230.73 298.13 231.57 298.59 232.41 C299.05 233.24 299.64 234.71 300.10 235.54 C300.56 236.38 300.89 237.21 301.35 237.42 C301.81 237.63 302.39 237.01 302.85 236.80 C303.31 236.59 303.63 235.90 304.11 236.17 C304.59 236.44 305.19 237.70 305.74 238.43 C306.28 239.16 306.84 239.89 307.37 240.56 C307.89 241.23 308.37 241.96 308.87 242.44 C309.37 242.92 309.91 243.65 310.37 243.44 C310.83 243.24 311.21 242.61 311.63 241.19 C312.04 239.77 312.46 236.80 312.88 234.92 C313.30 233.03 313.65 231.05 314.13 229.90 C314.61 228.75 315.24 228.23 315.76 228.02 C316.28 227.81 316.78 228.12 317.26 228.64 C317.75 229.17 318.16 230.42 318.64 231.15 C319.12 231.88 319.65 232.82 320.15 233.03 C320.65 233.24 321.13 232.13 321.65 232.41 C322.17 232.68 322.74 233.87 323.28 234.66 C323.82 235.46 324.39 236.61 324.91 237.17 C325.43 237.74 325.91 237.80 326.41 238.05 C326.91 238.30 327.39 238.16 327.92 238.68 C328.44 239.20 329.11 240.56 329.55 241.19 C329.99 241.81 330.13 241.86 330.55 242.44 C330.97 243.03 331.53 244.24 332.06 244.70 C332.58 245.16 333.21 245.47 333.69 245.20 C334.17 244.93 334.52 244.36 334.94 243.07 C335.36 241.77 335.77 239.41 336.19 237.42 C336.61 235.44 336.96 232.62 337.45 231.15 C337.93 229.69 338.51 229.23 339.07 228.64 C339.64 228.06 340.26 227.64 340.83 227.64 C341.39 227.64 341.98 228.06 342.46 228.64 C342.94 229.23 343.23 230.36 343.71 231.15 C344.19 231.95 344.82 232.89 345.34 233.41 C345.86 233.93 346.34 234.04 346.84 234.29 C347.35 234.54 347.83 234.92 348.35 234.92 C348.87 234.92 349.43 234.08 349.98 234.29 C350.52 234.50 351.08 235.48 351.61 236.17 C352.13 236.86 352.61 237.97 353.11 238.43 C353.61 238.89 354.09 238.78 354.61 238.93 C355.14 239.08 355.76 238.93 356.24 239.31 C356.72 239.68 357.08 240.66 357.50 241.19 C357.91 241.71 358.33 242.55 358.75 242.44 C359.17 242.34 359.52 241.61 360.00 240.56 C360.48 239.51 361.11 237.53 361.63 236.17 C362.15 234.81 362.63 233.56 363.13 232.41 C363.64 231.26 364.18 230.00 364.64 229.27 C365.10 228.54 365.47 228.02 365.89 228.02 C366.31 228.02 366.66 228.64 367.14 229.27 C367.62 229.90 368.23 231.05 368.77 231.78 C369.32 232.51 369.88 233.14 370.40 233.66 C370.92 234.18 371.41 234.60 371.91 234.92 C372.41 235.23 372.89 235.29 373.41 235.54 C373.93 235.79 374.50 235.90 375.04 236.42 C375.58 236.94 376.15 238.20 376.67 238.68 C377.19 239.16 377.82 239.20 378.17 239.31 C378.53 239.41 378.43 239.10 378.80 239.31 C379.18 239.51 379.89 239.79 380.43 240.56 C380.98 241.33 381.54 243.11 382.06 243.95 C382.58 244.78 383.06 245.51 383.57 245.58 C384.07 245.64 384.61 245.47 385.07 244.32 C385.53 243.17 385.90 240.66 386.32 238.68 C386.74 236.69 387.10 234.12 387.58 232.41 C388.06 230.69 388.66 229.12 389.20 228.39 C389.75 227.66 390.31 227.77 390.83 228.02 C391.36 228.27 391.84 229.27 392.34 229.90 C392.84 230.53 393.32 231.36 393.84 231.78 C394.36 232.20 394.89 232.20 395.47 232.41 C396.06 232.62 396.79 232.72 397.35 233.03 C397.91 233.35 398.33 233.77 398.85 234.29 C399.38 234.81 399.94 235.44 400.48 236.17 C401.03 236.90 401.59 238.05 402.11 238.68 C402.63 239.31 403.11 239.83 403.62 239.93 C404.12 240.04 404.60 239.10 405.12 239.31 C405.64 239.51 406.21 240.62 406.75 241.19 C407.29 241.75 407.90 242.32 408.38 242.69 C408.86 243.07 409.28 243.59 409.63 243.44 C409.99 243.30 410.15 243.03 410.51 241.81 C410.86 240.60 411.34 237.95 411.76 236.17 C412.18 234.39 412.53 232.51 413.01 231.15 C413.49 229.79 414.12 228.60 414.64 228.02 C415.17 227.43 415.69 227.43 416.15 227.64 C416.61 227.85 416.98 228.79 417.40 229.27 C417.82 229.75 418.13 230.21 418.65 230.53 C419.18 230.84 419.95 230.84 420.53 231.15 C421.12 231.47 421.60 232.09 422.16 232.41 C422.73 232.72 423.35 232.72 423.92 233.03 C424.48 233.35 425.11 233.97 425.55 234.29 C425.99 234.60 426.13 234.29 426.55 234.92 C426.97 235.54 427.53 237.21 428.06 238.05 C428.58 238.89 429.14 239.41 429.69 239.93 C430.23 240.46 430.83 240.60 431.32 241.19 C431.80 241.77 432.11 242.65 432.57 243.44 C433.03 244.24 433.61 245.74 434.07 245.95 C434.53 246.16 434.91 245.70 435.33 244.70 C435.74 243.70 436.16 241.77 436.58 239.93 C437.00 238.09 437.41 235.33 437.83 233.66 C438.25 231.99 438.62 230.78 439.08 229.90 C439.54 229.02 440.07 228.39 440.59 228.39 C441.11 228.39 441.67 229.33 442.22 229.90 C442.76 230.46 443.28 231.36 443.85 231.78 C444.41 232.20 445.04 232.09 445.60 232.41 C446.16 232.72 446.69 233.28 447.23 233.66 C447.77 234.04 448.34 234.14 448.86 234.66 C449.38 235.19 449.86 236.02 450.36 236.80 C450.86 237.57 451.34 238.78 451.87 239.31 C452.39 239.83 452.95 240.08 453.50 239.93 C454.04 239.79 454.64 238.59 455.12 238.43 C455.60 238.26 455.96 238.47 456.38 238.93 C456.80 239.39 457.17 240.50 457.63 241.19 C458.09 241.88 458.57 242.65 459.13 243.07 C459.70 243.49 460.43 243.55 461.01 243.70 C461.60 243.84 462.12 244.05 462.64 243.95 C463.17 243.84 463.65 243.84 464.15 243.07 C464.65 242.30 465.23 240.87 465.65 239.31 C466.07 237.74 466.28 235.33 466.65 233.66 C467.03 231.99 467.49 230.27 467.91 229.27 C468.32 228.27 468.74 227.74 469.16 227.64 C469.58 227.54 469.95 228.16 470.41 228.64 C470.87 229.12 471.39 230.11 471.92 230.53 C472.44 230.94 473.04 231.01 473.55 231.15 C474.05 231.30 474.50 231.19 474.94 231.40 C475.38 231.61 475.71 232.03 476.19 232.41 C476.67 232.78 477.30 233.24 477.82 233.66 C478.34 234.08 478.82 234.50 479.33 234.92 C479.83 235.33 480.31 235.75 480.83 236.17 C481.35 236.59 481.98 236.90 482.46 237.42 C482.94 237.95 483.23 238.57 483.71 239.31 C484.19 240.04 484.86 241.50 485.34 241.81 C485.82 242.13 486.18 242.34 486.59 241.19 C487.01 240.04 487.43 236.76 487.85 234.92 C488.26 233.08 488.68 231.19 489.10 230.15 C489.52 229.10 489.89 228.85 490.35 228.64 C490.81 228.43 491.36 228.58 491.86 228.89 C492.36 229.21 492.84 229.73 493.36 230.53 C493.88 231.32 494.51 232.41 494.99 233.66 C495.47 234.92 495.82 236.59 496.24 238.05 C496.66 239.51 497.08 241.29 497.50 242.44 C497.91 243.59 498.33 244.85 498.75 244.95 C499.17 245.05 499.79 243.38 500.00 243.07" fill="none" stroke="#006400" stroke-width="1.75" stroke-linejoin="round" stroke-linecap="square"/>
</g>
<rect x="42.50" y="161.40" width="499.90" height="90.95" fill="none" stroke="#000" stroke-width="1.0" stroke-linejoin="miter"/>
<line x1="45.15" y1="252.35" x2="45.15" y2="255.85" stroke="#000" stroke-width="0.8"/>
<text x="45.15" y="267.15" text-anchor="middle">0</text>
<line x1="129.02" y1="252.35" x2="129.02" y2="255.85" stroke="#000" stroke-width="0.8"/>
<text x="129.02" y="267.15" text-anchor="middle">500</text>
<line x1="212.89" y1="252.35" x2="212.89" y2="255.85" stroke="#000" stroke-width="0.8"/>
<text x="212.89" y="267.15" text-anchor="middle">1000</text>
<line x1="296.76" y1="252.35" x2="296.76" y2="255.85" stroke="#000" stroke-width="0.8"/>
<text x="296.76" y="267.15" text-anchor="middle">1500</text>
<line x1="380.63" y1="252.35" x2="380.63" y2="255.85" stroke="#000" stroke-width="0.8"/>
<text x="380.63" y="267.15" text-anchor="middle">2000</text>
<line x1="464.50" y1="252.35" x2="464.50" y2="255.85" stroke="#000" stroke-width="0.8"/>
<text x="464.50" y="267.15" text-anchor="middle">2500</text>
<line x1="39.00" y1="177.45" x2="42.50" y2="177.45" stroke="#000" stroke-width="0.8"/>
<text x="35.50" y="181.50" text-anchor="end">5</text>
<line x1="39.00" y1="207.00" x2="42.50" y2="207.00" stroke="#000" stroke-width="0.8"/>
<text x="35.50" y="211.05" text-anchor="end">0</text>
<line x1="39.00" y1="236.55" x2="42.50" y2="236.55" stroke="#000" stroke-width="0.8"/>
<text x="35.50" y="240.60" text-anchor="end">−5</text>
<text x="292.45" y="19.90" text-anchor="middle" font-size="12">Original Time Series</text>
<text x="292.45" y="156.00" text-anchor="middle" font-size="12">Downsampled Time Series</text>
<text x="292.45" y="281.30" text-anchor="middle">Samples</text>
<text transform="translate(15.6 206.88) rotate(-90)" text-anchor="middle">Amplitude</text>
<rect x="473.80" y="183.80" width="64.10" height="45.90" rx="2" fill="#fff" fill-opacity="0.8" stroke="#cccccc" stroke-width="0.8"/>
<line x1="477.8" y1="191.70" x2="497.8" y2="191.70" stroke="#000080" stroke-width="1.75"/>
<text x="505.8" y="195.80">Acc_x</text>
<line x1="477.8" y1="206.00" x2="497.8" y2="206.00" stroke="#ff8c00" stroke-width="1.75"/>
<text x="505.8" y="210.10">Acc_y</text>
<line x1="477.8" y1="220.30" x2="497.8" y2="220.30" stroke="#006400" stroke-width="1.75"/>
<text x="505.8" y="224.40">Acc_z</text>
</svg>
</body></html>
